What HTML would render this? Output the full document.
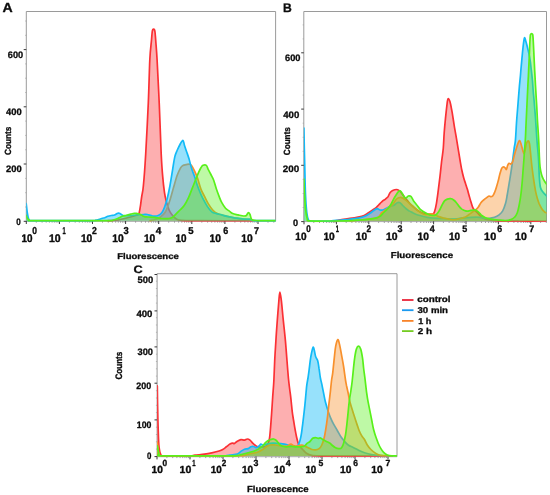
<!DOCTYPE html>
<html lang="en"><head><meta charset="utf-8"><title>Flow cytometry histograms</title>
<style>html,body{margin:0;padding:0;background:#fff}body{width:550px;height:495px;overflow:hidden}svg{display:block}</style></head>
<body>
<svg width="550" height="495" viewBox="0 0 550 495" font-family="'Liberation Sans', Arial, sans-serif" font-weight="bold" text-rendering="geometricPrecision" fill="#0c0c0c" stroke="#0c0c0c" stroke-width="0.3" stroke-linejoin="round">
<rect width="550" height="495" fill="#fff" stroke="none"/>
<defs>
<clipPath id="clipA"><rect x="26.3" y="11.5" width="249.3" height="210.8"/></clipPath>
<clipPath id="clipB"><rect x="303.8" y="11.5" width="242.7" height="211.1"/></clipPath>
<clipPath id="clipC"><rect x="157.1" y="273.7" width="239.9" height="184.0"/></clipPath>
</defs>
<path d="M26.3,221.3 L26.3,11.5 L275.6,11.5 L275.6,221.3" fill="none" stroke="#8e8e8e" stroke-width="0.9"/>
<path d="M26.3,221.3 L275.6,221.3" fill="none" stroke="#9a9a9a" stroke-width="0.9"/>
<path d="M23.7,221.3h2.6M23.7,164.0h2.6M23.7,106.8h2.6M23.7,49.6h2.6" stroke="#3a3a3a" stroke-width="1" fill="none"/>
<path d="M25.1,207.0h1.2M25.1,192.7h1.2M25.1,178.4h1.2M25.1,149.8h1.2M25.1,135.4h1.2M25.1,121.1h1.2M25.1,92.5h1.2M25.1,78.2h1.2M25.1,63.9h1.2M25.1,35.3h1.2M25.1,21.0h1.2" stroke="#999" stroke-width="0.6" fill="none"/>
<path d="M36.3,221.3v1.4M42.1,221.3v1.4M46.2,221.3v1.4M49.4,221.3v1.4M52.1,221.3v1.4M54.3,221.3v1.4M56.2,221.3v1.4M57.9,221.3v1.4M69.4,221.3v1.4M75.2,221.3v1.4M79.3,221.3v1.4M82.5,221.3v1.4M85.2,221.3v1.4M87.4,221.3v1.4M89.3,221.3v1.4M91.0,221.3v1.4M102.5,221.3v1.4M108.3,221.3v1.4M112.4,221.3v1.4M115.6,221.3v1.4M118.3,221.3v1.4M120.5,221.3v1.4M122.4,221.3v1.4M124.1,221.3v1.4M135.6,221.3v1.4M141.4,221.3v1.4M145.5,221.3v1.4M148.7,221.3v1.4M151.4,221.3v1.4M153.6,221.3v1.4M155.5,221.3v1.4M157.2,221.3v1.4M168.7,221.3v1.4M174.5,221.3v1.4M178.6,221.3v1.4M181.8,221.3v1.4M184.5,221.3v1.4M186.7,221.3v1.4M188.6,221.3v1.4M190.3,221.3v1.4M201.8,221.3v1.4M207.6,221.3v1.4M211.7,221.3v1.4M214.9,221.3v1.4M217.6,221.3v1.4M219.8,221.3v1.4M221.7,221.3v1.4M223.4,221.3v1.4M234.9,221.3v1.4M240.7,221.3v1.4M244.8,221.3v1.4M248.0,221.3v1.4M250.7,221.3v1.4M252.9,221.3v1.4M254.8,221.3v1.4M256.5,221.3v1.4M268.0,221.3v1.4M273.8,221.3v1.4" stroke="#808080" stroke-width="0.7" fill="none"/>
<path d="M26.3,221.0v3.0M59.4,221.0v3.0M92.5,221.0v3.0M125.6,221.0v3.0M158.7,221.0v3.0M191.8,221.0v3.0M224.9,221.0v3.0M258.0,221.0v3.0" stroke="#3a3a3a" stroke-width="1" fill="none"/>
<g clip-path="url(#clipA)"><path d="M108.0,220.6 C109.7,220.5 114.8,220.5 118.0,220.0 C121.2,219.5 124.6,218.5 127.3,217.8 C130.0,217.1 132.2,216.6 134.0,216.0 C135.8,215.4 137.5,215.2 138.4,214.4 C139.3,213.6 139.1,213.0 139.5,211.4 C139.9,209.8 140.2,207.4 140.6,204.8 C141.0,202.2 141.3,199.2 141.8,196.0 C142.3,192.8 142.8,192.5 143.4,185.5 C144.1,178.5 144.9,167.8 145.7,154.0 C146.5,140.2 147.6,118.7 148.3,103.0 C149.0,87.3 149.3,70.5 149.8,60.0 C150.3,49.5 151.1,44.7 151.5,40.0 C151.9,35.3 152.0,33.7 152.2,32.0 C152.4,30.3 152.6,30.1 152.8,29.6 C153.0,29.1 153.3,29.0 153.6,29.0 C153.9,29.0 154.2,29.1 154.4,29.6 C154.6,30.1 154.8,30.3 155.0,32.0 C155.2,33.7 155.3,35.3 155.7,40.0 C156.0,44.7 156.5,49.2 157.1,60.0 C157.7,70.8 158.6,89.3 159.3,105.0 C160.0,120.7 160.6,142.1 161.2,154.0 C161.8,165.9 162.1,170.0 162.7,176.4 C163.2,182.8 163.9,188.5 164.5,192.7 C165.1,196.9 165.6,198.9 166.4,201.8 C167.2,204.7 168.2,207.9 169.1,210.0 C170.0,212.1 170.6,213.0 171.8,214.5 C173.0,216.0 174.7,218.1 176.4,219.1 C178.1,220.1 177.9,220.1 181.8,220.4 C185.7,220.7 188.3,220.6 200.0,220.7 C211.7,220.8 243.3,220.7 252.0,220.7 L252.0,220.7 L108.0,220.7 Z" fill="#fb3034" fill-opacity="0.39" stroke="none"/><path d="M108.0,220.6 C109.7,220.5 114.8,220.5 118.0,220.0 C121.2,219.5 124.6,218.5 127.3,217.8 C130.0,217.1 132.2,216.6 134.0,216.0 C135.8,215.4 137.5,215.2 138.4,214.4 C139.3,213.6 139.1,213.0 139.5,211.4 C139.9,209.8 140.2,207.4 140.6,204.8 C141.0,202.2 141.3,199.2 141.8,196.0 C142.3,192.8 142.8,192.5 143.4,185.5 C144.1,178.5 144.9,167.8 145.7,154.0 C146.5,140.2 147.6,118.7 148.3,103.0 C149.0,87.3 149.3,70.5 149.8,60.0 C150.3,49.5 151.1,44.7 151.5,40.0 C151.9,35.3 152.0,33.7 152.2,32.0 C152.4,30.3 152.6,30.1 152.8,29.6 C153.0,29.1 153.3,29.0 153.6,29.0 C153.9,29.0 154.2,29.1 154.4,29.6 C154.6,30.1 154.8,30.3 155.0,32.0 C155.2,33.7 155.3,35.3 155.7,40.0 C156.0,44.7 156.5,49.2 157.1,60.0 C157.7,70.8 158.6,89.3 159.3,105.0 C160.0,120.7 160.6,142.1 161.2,154.0 C161.8,165.9 162.1,170.0 162.7,176.4 C163.2,182.8 163.9,188.5 164.5,192.7 C165.1,196.9 165.6,198.9 166.4,201.8 C167.2,204.7 168.2,207.9 169.1,210.0 C170.0,212.1 170.6,213.0 171.8,214.5 C173.0,216.0 174.7,218.1 176.4,219.1 C178.1,220.1 177.9,220.1 181.8,220.4 C185.7,220.7 188.3,220.6 200.0,220.7 C211.7,220.8 243.3,220.7 252.0,220.7" fill="none" stroke="#fb3034" stroke-width="1.7" stroke-linejoin="round" stroke-linecap="round"/></g>
<g clip-path="url(#clipA)"><path d="M150.0,220.6 C150.8,220.4 153.3,220.1 155.0,219.5 C156.7,218.9 158.2,218.6 160.0,217.3 C161.8,216.0 163.8,214.7 165.5,211.8 C167.2,208.9 168.7,204.1 170.0,200.0 C171.3,195.9 172.4,191.5 173.6,187.3 C174.8,183.1 176.1,178.2 177.3,175.0 C178.5,171.8 179.7,169.4 180.6,167.8 C181.5,166.2 182.1,165.9 183.0,165.4 C183.9,164.9 184.9,164.9 186.0,164.7 C187.1,164.5 188.4,163.9 189.3,164.1 C190.2,164.2 190.6,164.4 191.5,165.6 C192.4,166.8 193.5,169.0 194.5,171.0 C195.5,173.0 196.2,174.5 197.3,177.5 C198.4,180.5 199.7,185.9 200.9,189.1 C202.1,192.2 203.3,194.0 204.5,196.4 C205.7,198.8 206.8,201.3 208.2,203.6 C209.6,205.9 211.2,208.3 212.7,210.0 C214.2,211.7 215.5,212.7 217.3,213.6 C219.1,214.5 221.5,214.9 223.6,215.5 C225.7,216.1 227.3,216.4 230.0,217.0 C232.7,217.6 236.7,218.4 240.0,218.8 C243.3,219.2 247.7,219.3 250.0,219.6 C252.3,219.9 253.3,220.4 254.0,220.6 L254.0,220.7 L150.0,220.7 Z" fill="#f8902c" fill-opacity="0.4" stroke="none"/><path d="M150.0,220.6 C150.8,220.4 153.3,220.1 155.0,219.5 C156.7,218.9 158.2,218.6 160.0,217.3 C161.8,216.0 163.8,214.7 165.5,211.8 C167.2,208.9 168.7,204.1 170.0,200.0 C171.3,195.9 172.4,191.5 173.6,187.3 C174.8,183.1 176.1,178.2 177.3,175.0 C178.5,171.8 179.7,169.4 180.6,167.8 C181.5,166.2 182.1,165.9 183.0,165.4 C183.9,164.9 184.9,164.9 186.0,164.7 C187.1,164.5 188.4,163.9 189.3,164.1 C190.2,164.2 190.6,164.4 191.5,165.6 C192.4,166.8 193.5,169.0 194.5,171.0 C195.5,173.0 196.2,174.5 197.3,177.5 C198.4,180.5 199.7,185.9 200.9,189.1 C202.1,192.2 203.3,194.0 204.5,196.4 C205.7,198.8 206.8,201.3 208.2,203.6 C209.6,205.9 211.2,208.3 212.7,210.0 C214.2,211.7 215.5,212.7 217.3,213.6 C219.1,214.5 221.5,214.9 223.6,215.5 C225.7,216.1 227.3,216.4 230.0,217.0 C232.7,217.6 236.7,218.4 240.0,218.8 C243.3,219.2 247.7,219.3 250.0,219.6 C252.3,219.9 253.3,220.4 254.0,220.6" fill="none" stroke="#f8902c" stroke-width="1.7" stroke-linejoin="round" stroke-linecap="round"/></g>
<g clip-path="url(#clipA)"><path d="M26.2,203.5 C26.4,204.9 26.8,209.3 27.2,212.0 C27.6,214.7 28.3,218.2 28.9,219.6 C29.5,221.0 25.8,220.4 31.0,220.6 C36.2,220.8 49.8,220.7 60.0,220.7 C70.2,220.7 86.0,220.7 92.0,220.6 C98.0,220.5 94.5,220.5 95.9,220.2 C97.3,219.9 98.8,219.4 100.3,219.0 C101.8,218.6 103.3,218.1 104.6,217.7 C105.9,217.2 106.8,216.7 107.9,216.3 C109.0,215.9 110.1,215.7 111.2,215.5 C112.3,215.3 113.6,215.3 114.5,215.0 C115.4,214.7 116.0,214.1 116.6,213.8 C117.2,213.5 117.8,213.2 118.3,213.2 C118.8,213.1 119.3,213.2 119.9,213.5 C120.5,213.8 121.5,214.5 122.1,214.9 C122.7,215.3 122.5,215.6 123.7,215.7 C124.9,215.8 127.0,215.7 129.0,215.6 C131.1,215.5 133.6,215.2 136.0,215.0 C138.4,214.8 141.7,214.6 143.6,214.5 C145.5,214.4 145.8,214.2 147.3,214.5 C148.8,214.8 150.9,215.8 152.7,216.0 C154.5,216.2 156.7,216.1 158.2,215.5 C159.7,214.9 160.8,214.1 161.8,212.7 C162.9,211.3 163.6,209.7 164.5,207.3 C165.4,204.9 166.4,201.8 167.3,198.2 C168.2,194.6 169.1,190.3 170.0,185.5 C170.9,180.7 171.9,173.9 172.7,169.1 C173.5,164.2 174.1,159.6 174.9,156.4 C175.7,153.2 176.5,152.0 177.3,150.0 C178.2,148.0 179.1,146.1 180.0,144.5 C180.9,142.9 182.2,140.1 182.9,140.3 C183.7,140.5 183.8,143.3 184.5,145.5 C185.2,147.7 186.5,151.3 187.3,153.6 C188.1,155.9 188.3,156.5 189.1,159.1 C189.8,161.7 190.9,166.2 191.8,169.1 C192.7,172.0 193.7,174.1 194.5,176.4 C195.3,178.7 195.6,180.4 196.4,182.7 C197.2,185.0 198.1,187.4 199.1,190.0 C200.1,192.6 201.3,195.5 202.7,198.2 C204.1,200.9 205.8,204.1 207.3,206.4 C208.8,208.7 210.3,210.6 211.8,211.8 C213.3,213.0 214.7,213.1 216.4,213.6 C218.1,214.1 220.0,214.4 221.8,214.9 C223.6,215.4 225.2,215.9 227.3,216.4 C229.4,216.9 231.8,217.4 234.5,217.8 C237.2,218.2 241.0,218.9 243.6,219.1 C246.2,219.3 248.5,218.9 250.0,219.1 C251.5,219.3 251.0,220.2 252.7,220.5 C254.4,220.8 256.2,220.7 260.0,220.7 C263.8,220.7 273.0,220.7 275.6,220.7 L275.6,220.7 L26.2,220.7 Z" fill="#12baf7" fill-opacity="0.44" stroke="none"/><path d="M26.2,203.5 C26.4,204.9 26.8,209.3 27.2,212.0 C27.6,214.7 28.3,218.2 28.9,219.6 C29.5,221.0 25.8,220.4 31.0,220.6 C36.2,220.8 49.8,220.7 60.0,220.7 C70.2,220.7 86.0,220.7 92.0,220.6 C98.0,220.5 94.5,220.5 95.9,220.2 C97.3,219.9 98.8,219.4 100.3,219.0 C101.8,218.6 103.3,218.1 104.6,217.7 C105.9,217.2 106.8,216.7 107.9,216.3 C109.0,215.9 110.1,215.7 111.2,215.5 C112.3,215.3 113.6,215.3 114.5,215.0 C115.4,214.7 116.0,214.1 116.6,213.8 C117.2,213.5 117.8,213.2 118.3,213.2 C118.8,213.1 119.3,213.2 119.9,213.5 C120.5,213.8 121.5,214.5 122.1,214.9 C122.7,215.3 122.5,215.6 123.7,215.7 C124.9,215.8 127.0,215.7 129.0,215.6 C131.1,215.5 133.6,215.2 136.0,215.0 C138.4,214.8 141.7,214.6 143.6,214.5 C145.5,214.4 145.8,214.2 147.3,214.5 C148.8,214.8 150.9,215.8 152.7,216.0 C154.5,216.2 156.7,216.1 158.2,215.5 C159.7,214.9 160.8,214.1 161.8,212.7 C162.9,211.3 163.6,209.7 164.5,207.3 C165.4,204.9 166.4,201.8 167.3,198.2 C168.2,194.6 169.1,190.3 170.0,185.5 C170.9,180.7 171.9,173.9 172.7,169.1 C173.5,164.2 174.1,159.6 174.9,156.4 C175.7,153.2 176.5,152.0 177.3,150.0 C178.2,148.0 179.1,146.1 180.0,144.5 C180.9,142.9 182.2,140.1 182.9,140.3 C183.7,140.5 183.8,143.3 184.5,145.5 C185.2,147.7 186.5,151.3 187.3,153.6 C188.1,155.9 188.3,156.5 189.1,159.1 C189.8,161.7 190.9,166.2 191.8,169.1 C192.7,172.0 193.7,174.1 194.5,176.4 C195.3,178.7 195.6,180.4 196.4,182.7 C197.2,185.0 198.1,187.4 199.1,190.0 C200.1,192.6 201.3,195.5 202.7,198.2 C204.1,200.9 205.8,204.1 207.3,206.4 C208.8,208.7 210.3,210.6 211.8,211.8 C213.3,213.0 214.7,213.1 216.4,213.6 C218.1,214.1 220.0,214.4 221.8,214.9 C223.6,215.4 225.2,215.9 227.3,216.4 C229.4,216.9 231.8,217.4 234.5,217.8 C237.2,218.2 241.0,218.9 243.6,219.1 C246.2,219.3 248.5,218.9 250.0,219.1 C251.5,219.3 251.0,220.2 252.7,220.5 C254.4,220.8 256.2,220.7 260.0,220.7 C263.8,220.7 273.0,220.7 275.6,220.7" fill="none" stroke="#12baf7" stroke-width="1.7" stroke-linejoin="round" stroke-linecap="round"/></g>
<g clip-path="url(#clipA)"><path d="M26.2,215.3 C26.4,215.8 26.9,217.7 27.5,218.5 C28.1,219.3 28.8,219.8 29.5,220.2 C30.2,220.6 25.2,220.6 32.0,220.7 C38.8,220.8 57.3,220.7 70.0,220.7 C82.7,220.7 101.0,220.8 108.0,220.7 C115.0,220.6 110.7,220.7 112.3,220.3 C113.9,219.9 116.1,219.2 117.7,218.5 C119.3,217.8 120.6,216.9 122.1,216.3 C123.6,215.8 125.0,215.6 126.5,215.2 C128.0,214.8 129.5,214.4 130.8,214.1 C132.1,213.8 133.2,213.4 134.1,213.3 C135.0,213.2 135.6,213.2 136.3,213.3 C137.0,213.4 137.8,213.6 138.5,213.8 C139.2,214.0 139.9,214.2 140.6,214.6 C141.3,214.9 142.1,215.5 142.8,215.9 C143.5,216.3 144.1,216.6 145.0,216.8 C145.9,217.0 146.4,216.9 148.0,217.0 C149.6,217.1 152.2,217.1 154.5,217.3 C156.8,217.6 159.4,218.3 161.8,218.5 C164.2,218.7 167.3,218.7 169.1,218.5 C170.9,218.3 171.5,218.1 172.7,217.3 C173.9,216.5 175.2,214.8 176.4,213.6 C177.6,212.4 178.7,211.3 180.0,210.0 C181.3,208.7 182.8,207.5 184.2,205.5 C185.6,203.5 187.1,200.8 188.3,198.2 C189.6,195.5 190.6,192.4 191.7,189.6 C192.8,186.8 193.9,184.1 195.0,181.3 C196.1,178.5 197.4,175.2 198.4,172.9 C199.4,170.7 200.1,169.1 200.9,167.8 C201.7,166.5 202.1,165.7 203.0,165.3 C203.9,164.9 205.4,164.6 206.3,165.3 C207.2,166.0 207.4,167.8 208.2,169.3 C209.0,170.8 210.0,172.7 210.9,174.5 C211.8,176.3 212.7,177.6 213.6,180.0 C214.5,182.4 215.5,186.4 216.4,189.1 C217.3,191.8 218.2,194.1 219.1,196.4 C220.0,198.7 220.7,200.7 221.8,202.7 C222.9,204.7 224.3,206.8 225.5,208.2 C226.7,209.6 227.9,210.0 229.1,210.9 C230.3,211.8 231.2,212.9 232.7,213.6 C234.2,214.3 236.4,214.5 238.2,214.9 C240.0,215.3 242.2,215.9 243.6,216.0 C245.0,216.1 245.6,216.1 246.4,215.5 C247.2,214.9 247.6,212.9 248.2,212.7 C248.8,212.5 249.4,213.3 250.0,214.5 C250.6,215.7 250.7,218.6 251.8,219.6 C252.9,220.6 254.2,220.3 256.4,220.5 C258.6,220.7 261.8,220.7 265.0,220.7 C268.2,220.7 273.8,220.7 275.6,220.7 L275.6,220.7 L26.2,220.7 Z" fill="#58f01a" fill-opacity="0.39" stroke="none"/><path d="M26.2,215.3 C26.4,215.8 26.9,217.7 27.5,218.5 C28.1,219.3 28.8,219.8 29.5,220.2 C30.2,220.6 25.2,220.6 32.0,220.7 C38.8,220.8 57.3,220.7 70.0,220.7 C82.7,220.7 101.0,220.8 108.0,220.7 C115.0,220.6 110.7,220.7 112.3,220.3 C113.9,219.9 116.1,219.2 117.7,218.5 C119.3,217.8 120.6,216.9 122.1,216.3 C123.6,215.8 125.0,215.6 126.5,215.2 C128.0,214.8 129.5,214.4 130.8,214.1 C132.1,213.8 133.2,213.4 134.1,213.3 C135.0,213.2 135.6,213.2 136.3,213.3 C137.0,213.4 137.8,213.6 138.5,213.8 C139.2,214.0 139.9,214.2 140.6,214.6 C141.3,214.9 142.1,215.5 142.8,215.9 C143.5,216.3 144.1,216.6 145.0,216.8 C145.9,217.0 146.4,216.9 148.0,217.0 C149.6,217.1 152.2,217.1 154.5,217.3 C156.8,217.6 159.4,218.3 161.8,218.5 C164.2,218.7 167.3,218.7 169.1,218.5 C170.9,218.3 171.5,218.1 172.7,217.3 C173.9,216.5 175.2,214.8 176.4,213.6 C177.6,212.4 178.7,211.3 180.0,210.0 C181.3,208.7 182.8,207.5 184.2,205.5 C185.6,203.5 187.1,200.8 188.3,198.2 C189.6,195.5 190.6,192.4 191.7,189.6 C192.8,186.8 193.9,184.1 195.0,181.3 C196.1,178.5 197.4,175.2 198.4,172.9 C199.4,170.7 200.1,169.1 200.9,167.8 C201.7,166.5 202.1,165.7 203.0,165.3 C203.9,164.9 205.4,164.6 206.3,165.3 C207.2,166.0 207.4,167.8 208.2,169.3 C209.0,170.8 210.0,172.7 210.9,174.5 C211.8,176.3 212.7,177.6 213.6,180.0 C214.5,182.4 215.5,186.4 216.4,189.1 C217.3,191.8 218.2,194.1 219.1,196.4 C220.0,198.7 220.7,200.7 221.8,202.7 C222.9,204.7 224.3,206.8 225.5,208.2 C226.7,209.6 227.9,210.0 229.1,210.9 C230.3,211.8 231.2,212.9 232.7,213.6 C234.2,214.3 236.4,214.5 238.2,214.9 C240.0,215.3 242.2,215.9 243.6,216.0 C245.0,216.1 245.6,216.1 246.4,215.5 C247.2,214.9 247.6,212.9 248.2,212.7 C248.8,212.5 249.4,213.3 250.0,214.5 C250.6,215.7 250.7,218.6 251.8,219.6 C252.9,220.6 254.2,220.3 256.4,220.5 C258.6,220.7 261.8,220.7 265.0,220.7 C268.2,220.7 273.8,220.7 275.6,220.7" fill="none" stroke="#58f01a" stroke-width="1.7" stroke-linejoin="round" stroke-linecap="round"/></g>
<path d="M303.8,221.6 L303.8,11.5 L546.5,11.5 L546.5,221.6" fill="none" stroke="#8e8e8e" stroke-width="0.9"/>
<path d="M303.8,221.6 L546.5,221.6" fill="none" stroke="#9a9a9a" stroke-width="0.9"/>
<path d="M301.2,221.6h2.6M301.2,165.3h2.6M301.2,109.1h2.6M301.2,52.8h2.6" stroke="#3a3a3a" stroke-width="1" fill="none"/>
<path d="M302.6,207.5h1.2M302.6,193.5h1.2M302.6,179.4h1.2M302.6,151.3h1.2M302.6,137.3h1.2M302.6,123.2h1.2M302.6,95.1h1.2M302.6,81.1h1.2M302.6,67.0h1.2M302.6,38.9h1.2M302.6,24.9h1.2" stroke="#999" stroke-width="0.6" fill="none"/>
<path d="M313.8,221.6v1.4M319.5,221.6v1.4M323.5,221.6v1.4M326.6,221.6v1.4M329.2,221.6v1.4M331.4,221.6v1.4M333.3,221.6v1.4M334.9,221.6v1.4M346.2,221.6v1.4M351.9,221.6v1.4M355.9,221.6v1.4M359.0,221.6v1.4M361.6,221.6v1.4M363.8,221.6v1.4M365.7,221.6v1.4M367.3,221.6v1.4M378.6,221.6v1.4M384.3,221.6v1.4M388.3,221.6v1.4M391.4,221.6v1.4M394.0,221.6v1.4M396.2,221.6v1.4M398.1,221.6v1.4M399.7,221.6v1.4M411.0,221.6v1.4M416.7,221.6v1.4M420.7,221.6v1.4M423.8,221.6v1.4M426.4,221.6v1.4M428.6,221.6v1.4M430.5,221.6v1.4M432.1,221.6v1.4M443.4,221.6v1.4M449.1,221.6v1.4M453.1,221.6v1.4M456.2,221.6v1.4M458.8,221.6v1.4M461.0,221.6v1.4M462.9,221.6v1.4M464.5,221.6v1.4M475.8,221.6v1.4M481.5,221.6v1.4M485.5,221.6v1.4M488.6,221.6v1.4M491.2,221.6v1.4M493.4,221.6v1.4M495.3,221.6v1.4M496.9,221.6v1.4M508.2,221.6v1.4M513.9,221.6v1.4M517.9,221.6v1.4M521.0,221.6v1.4M523.6,221.6v1.4M525.8,221.6v1.4M527.7,221.6v1.4M529.3,221.6v1.4M540.6,221.6v1.4M546.3,221.6v1.4" stroke="#808080" stroke-width="0.7" fill="none"/>
<path d="M304.0,221.29999999999998v3.0M336.4,221.29999999999998v3.0M368.8,221.29999999999998v3.0M401.2,221.29999999999998v3.0M433.6,221.29999999999998v3.0M466.0,221.29999999999998v3.0M498.4,221.29999999999998v3.0M530.8,221.29999999999998v3.0" stroke="#3a3a3a" stroke-width="1" fill="none"/>
<g clip-path="url(#clipB)"><path d="M334.0,221.0 C334.7,220.9 336.1,220.6 338.0,220.3 C339.9,220.0 342.8,219.5 345.5,219.1 C348.2,218.7 351.8,218.2 354.5,217.8 C357.2,217.4 359.7,217.1 361.8,216.4 C363.9,215.7 365.5,214.7 367.3,213.6 C369.1,212.5 371.2,211.1 372.7,210.0 C374.2,208.9 375.2,208.4 376.4,207.3 C377.6,206.2 378.9,204.7 380.0,203.6 C381.1,202.5 381.8,201.7 382.7,200.9 C383.6,200.2 384.6,199.8 385.5,199.1 C386.4,198.3 387.4,197.5 388.2,196.4 C388.9,195.3 389.2,193.7 390.0,192.7 C390.8,191.7 391.6,191.0 392.7,190.5 C393.8,190.0 395.3,189.5 396.4,189.5 C397.5,189.5 398.4,190.0 399.3,190.6 C400.2,191.2 400.6,191.9 401.5,193.0 C402.4,194.1 403.2,195.6 404.4,197.1 C405.6,198.6 407.2,200.6 408.7,202.2 C410.1,203.8 411.6,205.2 413.1,206.5 C414.6,207.8 415.9,209.1 417.5,210.2 C419.1,211.3 420.7,212.3 422.5,213.0 C424.3,213.7 426.7,214.2 428.4,214.4 C430.1,214.6 431.7,214.6 432.7,214.2 C433.7,213.8 433.9,213.6 434.5,211.8 C435.1,210.0 435.8,207.1 436.4,203.6 C437.0,200.1 437.6,195.4 438.2,190.9 C438.8,186.4 439.4,181.6 440.0,176.4 C440.6,171.2 441.2,164.7 441.8,160.0 C442.4,155.3 442.9,152.6 443.3,148.0 C443.7,143.4 443.8,137.7 444.2,132.7 C444.6,127.7 445.0,123.3 445.5,118.2 C446.0,113.1 446.9,105.1 447.3,101.8 C447.8,98.5 447.8,98.5 448.2,98.5 C448.6,98.5 449.3,99.4 450.0,101.8 C450.7,104.2 451.4,108.5 452.2,112.7 C452.9,117.0 453.8,123.0 454.5,127.3 C455.2,131.5 455.8,134.6 456.4,138.2 C457.0,141.8 457.6,145.5 458.2,149.1 C458.8,152.7 459.4,156.5 460.0,160.0 C460.6,163.5 461.2,167.1 461.8,170.0 C462.4,172.9 463.0,175.2 463.6,177.5 C464.2,179.8 464.9,181.6 465.5,183.5 C466.1,185.4 466.7,187.1 467.3,189.1 C467.9,191.1 468.5,193.4 469.1,195.5 C469.7,197.6 470.3,199.8 470.9,201.8 C471.5,203.8 472.1,205.9 472.7,207.3 C473.3,208.7 473.6,208.9 474.5,210.0 C475.4,211.1 477.0,212.4 478.2,213.6 C479.4,214.8 480.3,216.3 481.8,217.3 C483.3,218.3 484.9,219.1 487.3,219.6 C489.7,220.1 490.9,220.4 496.4,220.6 C501.8,220.8 511.7,220.9 520.0,221.0 C528.3,221.1 541.8,221.0 546.2,221.0 L546.2,221.0 L334.0,221.0 Z" fill="#fb3034" fill-opacity="0.39" stroke="none"/><path d="M334.0,221.0 C334.7,220.9 336.1,220.6 338.0,220.3 C339.9,220.0 342.8,219.5 345.5,219.1 C348.2,218.7 351.8,218.2 354.5,217.8 C357.2,217.4 359.7,217.1 361.8,216.4 C363.9,215.7 365.5,214.7 367.3,213.6 C369.1,212.5 371.2,211.1 372.7,210.0 C374.2,208.9 375.2,208.4 376.4,207.3 C377.6,206.2 378.9,204.7 380.0,203.6 C381.1,202.5 381.8,201.7 382.7,200.9 C383.6,200.2 384.6,199.8 385.5,199.1 C386.4,198.3 387.4,197.5 388.2,196.4 C388.9,195.3 389.2,193.7 390.0,192.7 C390.8,191.7 391.6,191.0 392.7,190.5 C393.8,190.0 395.3,189.5 396.4,189.5 C397.5,189.5 398.4,190.0 399.3,190.6 C400.2,191.2 400.6,191.9 401.5,193.0 C402.4,194.1 403.2,195.6 404.4,197.1 C405.6,198.6 407.2,200.6 408.7,202.2 C410.1,203.8 411.6,205.2 413.1,206.5 C414.6,207.8 415.9,209.1 417.5,210.2 C419.1,211.3 420.7,212.3 422.5,213.0 C424.3,213.7 426.7,214.2 428.4,214.4 C430.1,214.6 431.7,214.6 432.7,214.2 C433.7,213.8 433.9,213.6 434.5,211.8 C435.1,210.0 435.8,207.1 436.4,203.6 C437.0,200.1 437.6,195.4 438.2,190.9 C438.8,186.4 439.4,181.6 440.0,176.4 C440.6,171.2 441.2,164.7 441.8,160.0 C442.4,155.3 442.9,152.6 443.3,148.0 C443.7,143.4 443.8,137.7 444.2,132.7 C444.6,127.7 445.0,123.3 445.5,118.2 C446.0,113.1 446.9,105.1 447.3,101.8 C447.8,98.5 447.8,98.5 448.2,98.5 C448.6,98.5 449.3,99.4 450.0,101.8 C450.7,104.2 451.4,108.5 452.2,112.7 C452.9,117.0 453.8,123.0 454.5,127.3 C455.2,131.5 455.8,134.6 456.4,138.2 C457.0,141.8 457.6,145.5 458.2,149.1 C458.8,152.7 459.4,156.5 460.0,160.0 C460.6,163.5 461.2,167.1 461.8,170.0 C462.4,172.9 463.0,175.2 463.6,177.5 C464.2,179.8 464.9,181.6 465.5,183.5 C466.1,185.4 466.7,187.1 467.3,189.1 C467.9,191.1 468.5,193.4 469.1,195.5 C469.7,197.6 470.3,199.8 470.9,201.8 C471.5,203.8 472.1,205.9 472.7,207.3 C473.3,208.7 473.6,208.9 474.5,210.0 C475.4,211.1 477.0,212.4 478.2,213.6 C479.4,214.8 480.3,216.3 481.8,217.3 C483.3,218.3 484.9,219.1 487.3,219.6 C489.7,220.1 490.9,220.4 496.4,220.6 C501.8,220.8 511.7,220.9 520.0,221.0 C528.3,221.1 541.8,221.0 546.2,221.0" fill="none" stroke="#fb3034" stroke-width="1.7" stroke-linejoin="round" stroke-linecap="round"/></g>
<g clip-path="url(#clipB)"><path d="M303.9,128.0 C304.0,133.3 304.3,148.9 304.6,160.0 C304.9,171.1 305.1,185.7 305.5,194.5 C305.9,203.3 306.3,208.4 306.8,212.7 C307.3,216.9 307.7,218.6 308.4,220.0 C309.1,221.4 309.1,220.8 311.0,221.0 C312.9,221.2 316.8,221.0 320.0,221.0 C323.2,221.0 327.3,221.1 330.0,221.0 C332.7,220.9 333.5,220.6 336.4,220.4 C339.3,220.2 343.7,220.0 347.3,219.6 C350.9,219.2 355.2,218.8 358.2,218.2 C361.2,217.6 363.4,216.9 365.5,216.0 C367.6,215.1 369.4,213.7 370.9,212.7 C372.4,211.7 373.4,210.7 374.5,210.0 C375.6,209.3 376.4,208.7 377.3,208.7 C378.2,208.7 379.1,209.8 380.0,210.0 C380.9,210.2 381.6,210.3 382.7,210.0 C383.8,209.7 385.3,208.7 386.4,208.2 C387.5,207.7 388.2,207.3 389.1,206.9 C390.0,206.5 390.9,206.3 391.8,206.0 C392.7,205.7 393.6,205.6 394.5,205.0 C395.4,204.4 396.4,203.1 397.3,202.7 C398.2,202.3 399.1,202.2 400.0,202.7 C400.9,203.2 401.8,204.6 402.7,205.5 C403.6,206.4 404.4,207.3 405.5,208.2 C406.6,209.1 407.9,210.2 409.1,210.9 C410.3,211.7 411.5,212.1 412.7,212.7 C413.9,213.3 414.9,213.9 416.4,214.5 C417.9,215.1 420.0,215.5 421.8,216.0 C423.6,216.5 425.2,216.9 427.3,217.3 C429.4,217.7 431.8,218.0 434.5,218.2 C437.2,218.4 440.6,218.3 443.6,218.5 C446.6,218.7 449.7,219.2 452.7,219.1 C455.7,219.0 458.8,218.5 461.8,218.2 C464.8,217.9 467.9,217.5 470.9,217.3 C473.9,217.2 477.3,217.1 480.0,217.3 C482.7,217.5 484.9,218.5 487.3,218.5 C489.7,218.5 492.5,217.9 494.5,217.3 C496.5,216.7 497.7,216.0 499.1,214.9 C500.5,213.8 501.6,212.8 502.7,210.9 C503.8,209.0 504.7,206.3 505.5,203.6 C506.3,200.9 506.7,197.8 507.3,194.5 C507.9,191.2 508.5,187.2 509.1,183.6 C509.7,180.0 510.3,176.6 510.9,172.7 C511.5,168.8 512.2,164.1 512.7,160.0 C513.2,155.9 513.8,151.3 514.2,148.0 C514.7,144.7 515.0,144.5 515.4,140.3 C515.8,136.1 516.1,128.9 516.5,122.8 C516.9,116.7 517.5,110.2 518.0,103.9 C518.5,97.6 519.1,89.3 519.5,85.0 C519.9,80.7 519.9,81.3 520.2,78.2 C520.5,75.1 520.8,70.6 521.2,66.5 C521.6,62.4 522.0,57.4 522.4,53.5 C522.8,49.6 523.1,45.9 523.5,43.3 C523.9,40.7 524.1,38.0 524.5,37.7 C524.9,37.5 525.5,40.1 526.0,41.8 C526.5,43.4 527.0,45.6 527.5,47.6 C528.0,49.6 528.4,51.1 528.9,53.5 C529.4,55.9 530.0,59.3 530.4,62.2 C530.8,65.1 531.0,67.8 531.4,70.9 C531.8,74.1 532.2,77.6 532.5,81.1 C532.8,84.6 533.0,88.9 533.3,92.0 C533.5,95.1 533.7,95.8 534.0,99.5 C534.3,103.2 534.8,109.2 535.2,114.1 C535.6,118.9 535.9,123.8 536.2,128.6 C536.5,133.4 536.8,138.5 537.2,143.2 C537.6,147.9 538.0,151.5 538.4,157.0 C538.8,162.5 539.0,171.3 539.3,176.4 C539.6,181.5 539.8,184.7 540.4,187.3 C541.0,189.9 541.7,190.4 542.7,191.8 C543.7,193.2 545.0,194.5 546.2,195.5 C547.4,196.5 549.4,197.6 550.0,198.0 L550.0,221.0 L303.9,221.0 Z" fill="#12baf7" fill-opacity="0.44" stroke="none"/><path d="M303.9,128.0 C304.0,133.3 304.3,148.9 304.6,160.0 C304.9,171.1 305.1,185.7 305.5,194.5 C305.9,203.3 306.3,208.4 306.8,212.7 C307.3,216.9 307.7,218.6 308.4,220.0 C309.1,221.4 309.1,220.8 311.0,221.0 C312.9,221.2 316.8,221.0 320.0,221.0 C323.2,221.0 327.3,221.1 330.0,221.0 C332.7,220.9 333.5,220.6 336.4,220.4 C339.3,220.2 343.7,220.0 347.3,219.6 C350.9,219.2 355.2,218.8 358.2,218.2 C361.2,217.6 363.4,216.9 365.5,216.0 C367.6,215.1 369.4,213.7 370.9,212.7 C372.4,211.7 373.4,210.7 374.5,210.0 C375.6,209.3 376.4,208.7 377.3,208.7 C378.2,208.7 379.1,209.8 380.0,210.0 C380.9,210.2 381.6,210.3 382.7,210.0 C383.8,209.7 385.3,208.7 386.4,208.2 C387.5,207.7 388.2,207.3 389.1,206.9 C390.0,206.5 390.9,206.3 391.8,206.0 C392.7,205.7 393.6,205.6 394.5,205.0 C395.4,204.4 396.4,203.1 397.3,202.7 C398.2,202.3 399.1,202.2 400.0,202.7 C400.9,203.2 401.8,204.6 402.7,205.5 C403.6,206.4 404.4,207.3 405.5,208.2 C406.6,209.1 407.9,210.2 409.1,210.9 C410.3,211.7 411.5,212.1 412.7,212.7 C413.9,213.3 414.9,213.9 416.4,214.5 C417.9,215.1 420.0,215.5 421.8,216.0 C423.6,216.5 425.2,216.9 427.3,217.3 C429.4,217.7 431.8,218.0 434.5,218.2 C437.2,218.4 440.6,218.3 443.6,218.5 C446.6,218.7 449.7,219.2 452.7,219.1 C455.7,219.0 458.8,218.5 461.8,218.2 C464.8,217.9 467.9,217.5 470.9,217.3 C473.9,217.2 477.3,217.1 480.0,217.3 C482.7,217.5 484.9,218.5 487.3,218.5 C489.7,218.5 492.5,217.9 494.5,217.3 C496.5,216.7 497.7,216.0 499.1,214.9 C500.5,213.8 501.6,212.8 502.7,210.9 C503.8,209.0 504.7,206.3 505.5,203.6 C506.3,200.9 506.7,197.8 507.3,194.5 C507.9,191.2 508.5,187.2 509.1,183.6 C509.7,180.0 510.3,176.6 510.9,172.7 C511.5,168.8 512.2,164.1 512.7,160.0 C513.2,155.9 513.8,151.3 514.2,148.0 C514.7,144.7 515.0,144.5 515.4,140.3 C515.8,136.1 516.1,128.9 516.5,122.8 C516.9,116.7 517.5,110.2 518.0,103.9 C518.5,97.6 519.1,89.3 519.5,85.0 C519.9,80.7 519.9,81.3 520.2,78.2 C520.5,75.1 520.8,70.6 521.2,66.5 C521.6,62.4 522.0,57.4 522.4,53.5 C522.8,49.6 523.1,45.9 523.5,43.3 C523.9,40.7 524.1,38.0 524.5,37.7 C524.9,37.5 525.5,40.1 526.0,41.8 C526.5,43.4 527.0,45.6 527.5,47.6 C528.0,49.6 528.4,51.1 528.9,53.5 C529.4,55.9 530.0,59.3 530.4,62.2 C530.8,65.1 531.0,67.8 531.4,70.9 C531.8,74.1 532.2,77.6 532.5,81.1 C532.8,84.6 533.0,88.9 533.3,92.0 C533.5,95.1 533.7,95.8 534.0,99.5 C534.3,103.2 534.8,109.2 535.2,114.1 C535.6,118.9 535.9,123.8 536.2,128.6 C536.5,133.4 536.8,138.5 537.2,143.2 C537.6,147.9 538.0,151.5 538.4,157.0 C538.8,162.5 539.0,171.3 539.3,176.4 C539.6,181.5 539.8,184.7 540.4,187.3 C541.0,189.9 541.7,190.4 542.7,191.8 C543.7,193.2 545.0,194.5 546.2,195.5 C547.4,196.5 549.4,197.6 550.0,198.0" fill="none" stroke="#12baf7" stroke-width="1.7" stroke-linejoin="round" stroke-linecap="round"/></g>
<g clip-path="url(#clipB)"><path d="M350.0,221.0 C351.7,220.8 356.2,220.4 360.0,220.0 C363.8,219.6 369.7,218.9 372.7,218.5 C375.7,218.1 376.7,218.3 378.2,217.3 C379.7,216.3 380.6,213.9 381.8,212.7 C383.0,211.5 384.3,210.9 385.5,210.0 C386.7,209.1 387.9,208.2 389.1,207.3 C390.3,206.4 391.5,205.8 392.7,204.5 C393.9,203.2 395.3,200.3 396.4,199.2 C397.4,198.1 398.1,198.0 399.0,197.7 C399.9,197.4 400.5,197.3 401.5,197.6 C402.5,197.9 403.8,198.6 405.1,199.6 C406.4,200.6 408.1,202.0 409.5,203.3 C410.9,204.6 412.4,206.0 413.8,207.3 C415.2,208.6 416.8,209.9 418.2,210.9 C419.6,211.9 421.2,213.0 422.5,213.6 C423.8,214.2 424.6,214.6 426.0,214.6 C427.4,214.6 429.5,213.8 430.9,213.8 C432.3,213.8 433.3,214.1 434.5,214.5 C435.7,214.9 436.7,215.8 438.2,216.4 C439.7,217.0 441.8,217.8 443.6,218.2 C445.4,218.6 447.3,218.9 449.1,219.1 C450.9,219.3 452.7,219.7 454.5,219.6 C456.3,219.5 458.2,218.9 460.0,218.5 C461.8,218.1 464.0,217.7 465.5,217.0 C467.0,216.3 467.9,215.4 469.1,214.5 C470.3,213.6 471.6,212.6 472.7,211.8 C473.8,211.1 474.6,210.8 475.5,210.0 C476.4,209.2 477.3,208.5 478.2,207.3 C479.1,206.1 480.0,203.9 480.9,202.7 C481.8,201.5 482.7,200.8 483.6,200.0 C484.5,199.2 485.5,198.5 486.4,197.8 C487.3,197.1 488.4,196.2 489.1,196.0 C489.9,195.8 490.3,196.7 490.9,196.7 C491.5,196.7 492.1,196.7 492.7,196.0 C493.3,195.3 493.9,194.1 494.5,192.7 C495.1,191.2 495.8,189.3 496.4,187.3 C497.0,185.3 497.6,183.2 498.2,180.9 C498.8,178.6 499.4,175.7 500.0,173.6 C500.6,171.5 501.2,169.3 501.8,168.2 C502.4,167.1 503.0,166.9 503.6,166.9 C504.2,166.9 505.0,167.8 505.5,168.2 C506.0,168.6 506.0,169.9 506.4,169.5 C506.8,169.1 507.2,166.5 507.6,165.5 C508.1,164.5 508.6,163.6 509.1,163.3 C509.7,163.1 510.3,164.3 510.9,164.0 C511.5,163.7 512.1,163.1 512.7,161.5 C513.3,159.9 513.9,156.7 514.5,154.5 C515.1,152.3 515.8,150.2 516.4,148.2 C517.0,146.2 517.7,144.0 518.2,142.7 C518.7,141.4 519.2,140.4 519.6,140.6 C520.0,140.8 520.4,142.0 520.9,143.6 C521.4,145.2 522.2,148.3 522.7,150.0 C523.2,151.7 523.6,153.6 524.0,153.6 C524.4,153.6 524.7,151.7 525.1,150.0 C525.5,148.3 525.9,145.1 526.4,143.6 C526.9,142.1 527.7,140.9 528.2,140.9 C528.7,140.9 529.1,141.6 529.5,143.6 C529.9,145.6 530.1,149.0 530.5,152.7 C530.9,156.3 531.3,161.1 531.8,165.5 C532.3,169.9 533.0,174.9 533.6,179.1 C534.2,183.3 534.9,187.7 535.5,190.9 C536.1,194.1 536.7,196.1 537.3,198.2 C537.9,200.3 538.4,201.8 539.1,203.6 C539.9,205.3 540.9,207.3 541.8,208.7 C542.7,210.1 543.8,211.1 544.5,211.8 C545.2,212.5 545.3,212.3 546.2,212.7 C547.1,213.1 549.4,213.8 550.0,214.0 L550.0,221.0 L350.0,221.0 Z" fill="#f8902c" fill-opacity="0.4" stroke="none"/><path d="M350.0,221.0 C351.7,220.8 356.2,220.4 360.0,220.0 C363.8,219.6 369.7,218.9 372.7,218.5 C375.7,218.1 376.7,218.3 378.2,217.3 C379.7,216.3 380.6,213.9 381.8,212.7 C383.0,211.5 384.3,210.9 385.5,210.0 C386.7,209.1 387.9,208.2 389.1,207.3 C390.3,206.4 391.5,205.8 392.7,204.5 C393.9,203.2 395.3,200.3 396.4,199.2 C397.4,198.1 398.1,198.0 399.0,197.7 C399.9,197.4 400.5,197.3 401.5,197.6 C402.5,197.9 403.8,198.6 405.1,199.6 C406.4,200.6 408.1,202.0 409.5,203.3 C410.9,204.6 412.4,206.0 413.8,207.3 C415.2,208.6 416.8,209.9 418.2,210.9 C419.6,211.9 421.2,213.0 422.5,213.6 C423.8,214.2 424.6,214.6 426.0,214.6 C427.4,214.6 429.5,213.8 430.9,213.8 C432.3,213.8 433.3,214.1 434.5,214.5 C435.7,214.9 436.7,215.8 438.2,216.4 C439.7,217.0 441.8,217.8 443.6,218.2 C445.4,218.6 447.3,218.9 449.1,219.1 C450.9,219.3 452.7,219.7 454.5,219.6 C456.3,219.5 458.2,218.9 460.0,218.5 C461.8,218.1 464.0,217.7 465.5,217.0 C467.0,216.3 467.9,215.4 469.1,214.5 C470.3,213.6 471.6,212.6 472.7,211.8 C473.8,211.1 474.6,210.8 475.5,210.0 C476.4,209.2 477.3,208.5 478.2,207.3 C479.1,206.1 480.0,203.9 480.9,202.7 C481.8,201.5 482.7,200.8 483.6,200.0 C484.5,199.2 485.5,198.5 486.4,197.8 C487.3,197.1 488.4,196.2 489.1,196.0 C489.9,195.8 490.3,196.7 490.9,196.7 C491.5,196.7 492.1,196.7 492.7,196.0 C493.3,195.3 493.9,194.1 494.5,192.7 C495.1,191.2 495.8,189.3 496.4,187.3 C497.0,185.3 497.6,183.2 498.2,180.9 C498.8,178.6 499.4,175.7 500.0,173.6 C500.6,171.5 501.2,169.3 501.8,168.2 C502.4,167.1 503.0,166.9 503.6,166.9 C504.2,166.9 505.0,167.8 505.5,168.2 C506.0,168.6 506.0,169.9 506.4,169.5 C506.8,169.1 507.2,166.5 507.6,165.5 C508.1,164.5 508.6,163.6 509.1,163.3 C509.7,163.1 510.3,164.3 510.9,164.0 C511.5,163.7 512.1,163.1 512.7,161.5 C513.3,159.9 513.9,156.7 514.5,154.5 C515.1,152.3 515.8,150.2 516.4,148.2 C517.0,146.2 517.7,144.0 518.2,142.7 C518.7,141.4 519.2,140.4 519.6,140.6 C520.0,140.8 520.4,142.0 520.9,143.6 C521.4,145.2 522.2,148.3 522.7,150.0 C523.2,151.7 523.6,153.6 524.0,153.6 C524.4,153.6 524.7,151.7 525.1,150.0 C525.5,148.3 525.9,145.1 526.4,143.6 C526.9,142.1 527.7,140.9 528.2,140.9 C528.7,140.9 529.1,141.6 529.5,143.6 C529.9,145.6 530.1,149.0 530.5,152.7 C530.9,156.3 531.3,161.1 531.8,165.5 C532.3,169.9 533.0,174.9 533.6,179.1 C534.2,183.3 534.9,187.7 535.5,190.9 C536.1,194.1 536.7,196.1 537.3,198.2 C537.9,200.3 538.4,201.8 539.1,203.6 C539.9,205.3 540.9,207.3 541.8,208.7 C542.7,210.1 543.8,211.1 544.5,211.8 C545.2,212.5 545.3,212.3 546.2,212.7 C547.1,213.1 549.4,213.8 550.0,214.0" fill="none" stroke="#f8902c" stroke-width="1.7" stroke-linejoin="round" stroke-linecap="round"/></g>
<g clip-path="url(#clipB)"><path d="M303.9,179.0 C304.0,181.7 304.3,190.0 304.6,195.0 C304.9,200.0 305.1,205.0 305.5,209.0 C305.9,213.0 306.7,217.0 307.3,219.0 C307.9,221.0 306.2,220.6 309.1,220.9 C312.1,221.2 318.9,221.0 325.0,221.0 C331.1,221.0 339.7,221.1 345.5,220.9 C351.3,220.7 356.1,220.3 360.0,220.0 C363.9,219.7 366.4,219.5 369.1,219.1 C371.8,218.7 374.6,218.2 376.4,217.8 C378.2,217.4 378.9,217.1 380.0,216.4 C381.1,215.7 381.8,214.5 382.7,213.6 C383.6,212.7 384.6,211.8 385.5,210.9 C386.4,210.0 387.3,209.3 388.2,208.2 C389.1,207.1 390.0,206.0 390.9,204.5 C391.8,203.0 392.7,200.8 393.6,199.1 C394.5,197.4 395.6,195.7 396.4,194.5 C397.2,193.3 397.6,192.4 398.2,191.8 C398.8,191.2 399.4,190.8 400.0,190.9 C400.6,191.1 401.1,191.6 401.8,192.7 C402.6,193.8 403.7,196.5 404.5,197.3 C405.3,198.2 405.8,198.0 406.4,197.8 C407.0,197.6 407.4,196.2 408.2,196.0 C408.9,195.8 410.0,195.6 410.9,196.4 C411.8,197.2 412.7,199.6 413.6,200.9 C414.5,202.2 415.3,203.1 416.4,204.5 C417.5,205.9 418.8,207.9 420.0,209.1 C421.2,210.3 422.2,211.0 423.6,211.8 C425.0,212.7 426.7,213.6 428.2,214.2 C429.7,214.8 431.3,215.4 432.7,215.5 C434.1,215.6 435.3,215.3 436.4,214.5 C437.5,213.7 438.2,212.4 439.1,210.9 C440.0,209.4 440.9,207.2 441.8,205.5 C442.7,203.8 443.6,202.0 444.5,200.9 C445.4,199.8 446.2,199.5 447.3,199.1 C448.4,198.7 449.8,198.5 450.9,198.7 C451.9,198.8 452.7,199.3 453.6,200.0 C454.5,200.7 455.5,201.6 456.4,202.7 C457.3,203.8 458.2,205.3 459.1,206.4 C460.0,207.5 460.7,208.3 461.8,209.1 C462.9,209.8 464.3,210.6 465.5,210.9 C466.7,211.2 467.9,211.1 469.1,210.9 C470.3,210.8 471.6,210.2 472.7,210.0 C473.8,209.8 474.6,209.7 475.5,210.0 C476.4,210.3 477.4,211.2 478.2,211.8 C478.9,212.4 479.4,213.0 480.0,213.6 C480.6,214.2 480.9,214.8 481.8,215.5 C482.7,216.2 484.0,217.2 485.5,217.8 C487.0,218.4 488.8,218.7 490.9,219.1 C493.0,219.5 495.8,219.8 498.2,220.0 C500.6,220.2 503.4,220.6 505.5,220.5 C507.6,220.4 509.4,220.1 510.9,219.6 C512.4,219.1 513.4,218.5 514.5,217.3 C515.6,216.2 516.5,214.7 517.3,212.7 C518.1,210.7 518.5,208.5 519.1,205.5 C519.7,202.5 520.4,198.4 520.9,194.5 C521.4,190.6 521.8,186.3 522.2,181.8 C522.6,177.3 522.9,172.5 523.3,167.3 C523.7,162.2 524.2,155.4 524.5,150.9 C524.8,146.4 525.0,145.0 525.3,140.3 C525.6,135.6 525.8,128.9 526.1,122.8 C526.4,116.7 526.7,110.2 527.0,103.9 C527.3,97.6 527.6,90.5 527.9,85.0 C528.2,79.5 528.4,75.7 528.6,70.9 C528.8,66.1 529.1,61.2 529.3,56.4 C529.5,51.5 529.7,45.4 529.9,41.8 C530.1,38.2 530.2,36.3 530.4,35.0 C530.6,33.7 530.8,34.1 531.0,33.9 C531.2,33.7 531.4,33.7 531.6,33.7 C531.8,33.7 532.0,33.7 532.2,33.9 C532.4,34.1 532.6,33.7 532.8,35.0 C533.0,36.3 533.1,38.2 533.3,41.8 C533.5,45.4 533.8,51.5 534.0,56.4 C534.2,61.2 534.5,66.1 534.7,70.9 C535.0,75.8 535.2,80.0 535.5,85.5 C535.8,91.0 536.2,97.7 536.6,103.9 C537.0,110.1 537.2,116.7 537.6,122.8 C538.0,128.9 538.4,134.6 538.7,140.3 C539.0,146.0 539.2,152.5 539.4,157.0 C539.6,161.5 539.8,164.4 540.1,167.3 C540.5,170.2 541.0,172.5 541.5,174.5 C542.0,176.5 542.5,177.6 543.3,179.1 C544.1,180.6 545.1,182.3 546.2,183.6 C547.3,184.9 549.4,186.4 550.0,187.0 L550.0,221.0 L303.9,221.0 Z" fill="#58f01a" fill-opacity="0.39" stroke="none"/><path d="M303.9,179.0 C304.0,181.7 304.3,190.0 304.6,195.0 C304.9,200.0 305.1,205.0 305.5,209.0 C305.9,213.0 306.7,217.0 307.3,219.0 C307.9,221.0 306.2,220.6 309.1,220.9 C312.1,221.2 318.9,221.0 325.0,221.0 C331.1,221.0 339.7,221.1 345.5,220.9 C351.3,220.7 356.1,220.3 360.0,220.0 C363.9,219.7 366.4,219.5 369.1,219.1 C371.8,218.7 374.6,218.2 376.4,217.8 C378.2,217.4 378.9,217.1 380.0,216.4 C381.1,215.7 381.8,214.5 382.7,213.6 C383.6,212.7 384.6,211.8 385.5,210.9 C386.4,210.0 387.3,209.3 388.2,208.2 C389.1,207.1 390.0,206.0 390.9,204.5 C391.8,203.0 392.7,200.8 393.6,199.1 C394.5,197.4 395.6,195.7 396.4,194.5 C397.2,193.3 397.6,192.4 398.2,191.8 C398.8,191.2 399.4,190.8 400.0,190.9 C400.6,191.1 401.1,191.6 401.8,192.7 C402.6,193.8 403.7,196.5 404.5,197.3 C405.3,198.2 405.8,198.0 406.4,197.8 C407.0,197.6 407.4,196.2 408.2,196.0 C408.9,195.8 410.0,195.6 410.9,196.4 C411.8,197.2 412.7,199.6 413.6,200.9 C414.5,202.2 415.3,203.1 416.4,204.5 C417.5,205.9 418.8,207.9 420.0,209.1 C421.2,210.3 422.2,211.0 423.6,211.8 C425.0,212.7 426.7,213.6 428.2,214.2 C429.7,214.8 431.3,215.4 432.7,215.5 C434.1,215.6 435.3,215.3 436.4,214.5 C437.5,213.7 438.2,212.4 439.1,210.9 C440.0,209.4 440.9,207.2 441.8,205.5 C442.7,203.8 443.6,202.0 444.5,200.9 C445.4,199.8 446.2,199.5 447.3,199.1 C448.4,198.7 449.8,198.5 450.9,198.7 C451.9,198.8 452.7,199.3 453.6,200.0 C454.5,200.7 455.5,201.6 456.4,202.7 C457.3,203.8 458.2,205.3 459.1,206.4 C460.0,207.5 460.7,208.3 461.8,209.1 C462.9,209.8 464.3,210.6 465.5,210.9 C466.7,211.2 467.9,211.1 469.1,210.9 C470.3,210.8 471.6,210.2 472.7,210.0 C473.8,209.8 474.6,209.7 475.5,210.0 C476.4,210.3 477.4,211.2 478.2,211.8 C478.9,212.4 479.4,213.0 480.0,213.6 C480.6,214.2 480.9,214.8 481.8,215.5 C482.7,216.2 484.0,217.2 485.5,217.8 C487.0,218.4 488.8,218.7 490.9,219.1 C493.0,219.5 495.8,219.8 498.2,220.0 C500.6,220.2 503.4,220.6 505.5,220.5 C507.6,220.4 509.4,220.1 510.9,219.6 C512.4,219.1 513.4,218.5 514.5,217.3 C515.6,216.2 516.5,214.7 517.3,212.7 C518.1,210.7 518.5,208.5 519.1,205.5 C519.7,202.5 520.4,198.4 520.9,194.5 C521.4,190.6 521.8,186.3 522.2,181.8 C522.6,177.3 522.9,172.5 523.3,167.3 C523.7,162.2 524.2,155.4 524.5,150.9 C524.8,146.4 525.0,145.0 525.3,140.3 C525.6,135.6 525.8,128.9 526.1,122.8 C526.4,116.7 526.7,110.2 527.0,103.9 C527.3,97.6 527.6,90.5 527.9,85.0 C528.2,79.5 528.4,75.7 528.6,70.9 C528.8,66.1 529.1,61.2 529.3,56.4 C529.5,51.5 529.7,45.4 529.9,41.8 C530.1,38.2 530.2,36.3 530.4,35.0 C530.6,33.7 530.8,34.1 531.0,33.9 C531.2,33.7 531.4,33.7 531.6,33.7 C531.8,33.7 532.0,33.7 532.2,33.9 C532.4,34.1 532.6,33.7 532.8,35.0 C533.0,36.3 533.1,38.2 533.3,41.8 C533.5,45.4 533.8,51.5 534.0,56.4 C534.2,61.2 534.5,66.1 534.7,70.9 C535.0,75.8 535.2,80.0 535.5,85.5 C535.8,91.0 536.2,97.7 536.6,103.9 C537.0,110.1 537.2,116.7 537.6,122.8 C538.0,128.9 538.4,134.6 538.7,140.3 C539.0,146.0 539.2,152.5 539.4,157.0 C539.6,161.5 539.8,164.4 540.1,167.3 C540.5,170.2 541.0,172.5 541.5,174.5 C542.0,176.5 542.5,177.6 543.3,179.1 C544.1,180.6 545.1,182.3 546.2,183.6 C547.3,184.9 549.4,186.4 550.0,187.0" fill="none" stroke="#58f01a" stroke-width="1.7" stroke-linejoin="round" stroke-linecap="round"/></g>
<path d="M157.1,456.7 L157.1,273.7 L397.0,273.7 L397.0,456.7" fill="none" stroke="#8e8e8e" stroke-width="0.9"/>
<path d="M157.1,456.7 L397.0,456.7" fill="none" stroke="#9a9a9a" stroke-width="0.9"/>
<path d="M154.5,456.6h2.6M154.5,419.9h2.6M154.5,383.2h2.6M154.5,346.9h2.6M154.5,310.9h2.6M154.5,274.5h2.6" stroke="#3a3a3a" stroke-width="1" fill="none"/>
<path d="M155.9,449.1h1.2M155.9,441.8h1.2M155.9,434.5h1.2M155.9,427.2h1.2M155.9,412.6h1.2M155.9,405.3h1.2M155.9,398.0h1.2M155.9,390.7h1.2M155.9,376.1h1.2M155.9,368.8h1.2M155.9,361.5h1.2M155.9,354.2h1.2M155.9,339.6h1.2M155.9,332.3h1.2M155.9,325.0h1.2M155.9,317.7h1.2M155.9,303.1h1.2M155.9,295.8h1.2M155.9,288.5h1.2M155.9,281.2h1.2" stroke="#999" stroke-width="0.6" fill="none"/>
<path d="M166.9,456.7v1.4M172.7,456.7v1.4M176.9,456.7v1.4M180.1,456.7v1.4M182.7,456.7v1.4M184.9,456.7v1.4M186.8,456.7v1.4M188.5,456.7v1.4M199.9,456.7v1.4M205.7,456.7v1.4M209.9,456.7v1.4M213.1,456.7v1.4M215.7,456.7v1.4M217.9,456.7v1.4M219.8,456.7v1.4M221.5,456.7v1.4M232.9,456.7v1.4M238.7,456.7v1.4M242.9,456.7v1.4M246.1,456.7v1.4M248.7,456.7v1.4M250.9,456.7v1.4M252.8,456.7v1.4M254.5,456.7v1.4M265.9,456.7v1.4M271.7,456.7v1.4M275.9,456.7v1.4M279.1,456.7v1.4M281.7,456.7v1.4M283.9,456.7v1.4M285.8,456.7v1.4M287.5,456.7v1.4M298.9,456.7v1.4M304.7,456.7v1.4M308.9,456.7v1.4M312.1,456.7v1.4M314.7,456.7v1.4M316.9,456.7v1.4M318.8,456.7v1.4M320.5,456.7v1.4M331.9,456.7v1.4M337.7,456.7v1.4M341.9,456.7v1.4M345.1,456.7v1.4M347.7,456.7v1.4M349.9,456.7v1.4M351.8,456.7v1.4M353.5,456.7v1.4M364.9,456.7v1.4M370.7,456.7v1.4M374.9,456.7v1.4M378.1,456.7v1.4M380.7,456.7v1.4M382.9,456.7v1.4M384.8,456.7v1.4M386.5,456.7v1.4" stroke="#808080" stroke-width="0.7" fill="none"/>
<path d="M157.0,456.4v3.0M190.0,456.4v3.0M223.0,456.4v3.0M256.0,456.4v3.0M289.0,456.4v3.0M322.0,456.4v3.0M355.0,456.4v3.0M388.0,456.4v3.0" stroke="#3a3a3a" stroke-width="1" fill="none"/>
<g clip-path="url(#clipC)"><path d="M157.3,385.9 C157.4,389.9 157.5,402.7 157.7,410.0 C157.8,417.3 158.0,423.2 158.2,429.5 C158.4,435.8 158.6,443.4 159.1,447.7 C159.6,451.9 160.1,453.6 160.9,455.0 C161.7,456.4 161.5,455.8 164.0,455.9 C166.5,456.0 172.0,455.9 176.0,455.9 C180.0,455.9 185.3,455.9 188.0,455.9 C190.7,455.9 190.8,455.9 192.0,455.8 C193.2,455.7 192.9,455.5 195.0,455.2 C197.1,454.9 201.7,454.5 204.5,454.1 C207.3,453.7 209.4,453.3 211.8,452.8 C214.2,452.3 217.3,451.6 219.1,451.0 C220.9,450.4 221.5,450.2 222.7,449.5 C223.9,448.8 225.2,447.7 226.4,446.8 C227.6,445.9 228.9,444.7 230.0,444.1 C231.1,443.5 231.9,443.3 232.7,443.2 C233.4,443.1 233.7,443.8 234.5,443.5 C235.3,443.2 236.2,441.8 237.3,441.2 C238.4,440.6 239.7,439.8 240.9,439.6 C242.1,439.4 243.4,440.3 244.5,440.2 C245.6,440.1 246.4,439.0 247.3,439.0 C248.2,439.0 249.1,439.4 250.0,440.1 C250.9,440.8 251.8,442.3 252.7,443.2 C253.6,444.1 254.6,444.9 255.5,445.5 C256.4,446.1 257.1,446.6 258.2,446.8 C259.3,447.1 260.6,447.1 262.0,447.0 C263.4,446.9 265.2,447.0 266.4,445.9 C267.6,444.8 268.4,443.2 269.1,440.5 C269.8,437.8 270.0,433.8 270.4,429.5 C270.8,425.2 271.1,420.4 271.5,415.0 C271.9,409.6 272.3,402.6 272.7,396.8 C273.1,391.0 273.6,386.0 273.9,380.0 C274.2,374.0 274.4,367.4 274.7,360.8 C275.0,354.2 275.5,347.3 275.9,340.6 C276.3,333.9 276.8,327.1 277.3,320.4 C277.8,313.7 278.5,304.9 278.9,300.2 C279.3,295.5 279.5,292.1 279.9,292.1 C280.3,292.1 280.7,295.5 281.3,300.2 C281.9,304.9 282.6,313.7 283.3,320.4 C284.0,327.1 284.8,333.9 285.4,340.6 C286.0,347.3 286.5,354.2 287.0,360.8 C287.5,367.4 288.1,375.1 288.6,380.0 C289.1,384.9 289.4,386.9 289.8,390.0 C290.2,393.1 290.5,395.0 290.9,398.6 C291.3,402.2 291.8,407.8 292.2,411.4 C292.6,415.0 293.1,417.5 293.6,420.5 C294.1,423.5 294.6,426.8 295.1,429.5 C295.6,432.2 296.0,434.5 296.5,436.8 C297.0,439.1 297.7,441.7 298.2,443.2 C298.7,444.7 298.8,444.8 299.5,445.9 C300.2,446.9 301.6,448.3 302.7,449.5 C303.8,450.7 304.9,452.2 306.4,453.2 C307.9,454.2 309.5,455.0 311.8,455.4 C314.1,455.8 312.0,455.7 320.0,455.8 C328.0,455.9 348.0,455.8 360.0,455.8 C372.0,455.8 386.7,455.8 392.0,455.8 L392.0,456.0 L157.3,456.0 Z" fill="#fb3034" fill-opacity="0.39" stroke="none"/><path d="M157.3,385.9 C157.4,389.9 157.5,402.7 157.7,410.0 C157.8,417.3 158.0,423.2 158.2,429.5 C158.4,435.8 158.6,443.4 159.1,447.7 C159.6,451.9 160.1,453.6 160.9,455.0 C161.7,456.4 161.5,455.8 164.0,455.9 C166.5,456.0 172.0,455.9 176.0,455.9 C180.0,455.9 185.3,455.9 188.0,455.9 C190.7,455.9 190.8,455.9 192.0,455.8 C193.2,455.7 192.9,455.5 195.0,455.2 C197.1,454.9 201.7,454.5 204.5,454.1 C207.3,453.7 209.4,453.3 211.8,452.8 C214.2,452.3 217.3,451.6 219.1,451.0 C220.9,450.4 221.5,450.2 222.7,449.5 C223.9,448.8 225.2,447.7 226.4,446.8 C227.6,445.9 228.9,444.7 230.0,444.1 C231.1,443.5 231.9,443.3 232.7,443.2 C233.4,443.1 233.7,443.8 234.5,443.5 C235.3,443.2 236.2,441.8 237.3,441.2 C238.4,440.6 239.7,439.8 240.9,439.6 C242.1,439.4 243.4,440.3 244.5,440.2 C245.6,440.1 246.4,439.0 247.3,439.0 C248.2,439.0 249.1,439.4 250.0,440.1 C250.9,440.8 251.8,442.3 252.7,443.2 C253.6,444.1 254.6,444.9 255.5,445.5 C256.4,446.1 257.1,446.6 258.2,446.8 C259.3,447.1 260.6,447.1 262.0,447.0 C263.4,446.9 265.2,447.0 266.4,445.9 C267.6,444.8 268.4,443.2 269.1,440.5 C269.8,437.8 270.0,433.8 270.4,429.5 C270.8,425.2 271.1,420.4 271.5,415.0 C271.9,409.6 272.3,402.6 272.7,396.8 C273.1,391.0 273.6,386.0 273.9,380.0 C274.2,374.0 274.4,367.4 274.7,360.8 C275.0,354.2 275.5,347.3 275.9,340.6 C276.3,333.9 276.8,327.1 277.3,320.4 C277.8,313.7 278.5,304.9 278.9,300.2 C279.3,295.5 279.5,292.1 279.9,292.1 C280.3,292.1 280.7,295.5 281.3,300.2 C281.9,304.9 282.6,313.7 283.3,320.4 C284.0,327.1 284.8,333.9 285.4,340.6 C286.0,347.3 286.5,354.2 287.0,360.8 C287.5,367.4 288.1,375.1 288.6,380.0 C289.1,384.9 289.4,386.9 289.8,390.0 C290.2,393.1 290.5,395.0 290.9,398.6 C291.3,402.2 291.8,407.8 292.2,411.4 C292.6,415.0 293.1,417.5 293.6,420.5 C294.1,423.5 294.6,426.8 295.1,429.5 C295.6,432.2 296.0,434.5 296.5,436.8 C297.0,439.1 297.7,441.7 298.2,443.2 C298.7,444.7 298.8,444.8 299.5,445.9 C300.2,446.9 301.6,448.3 302.7,449.5 C303.8,450.7 304.9,452.2 306.4,453.2 C307.9,454.2 309.5,455.0 311.8,455.4 C314.1,455.8 312.0,455.7 320.0,455.8 C328.0,455.9 348.0,455.8 360.0,455.8 C372.0,455.8 386.7,455.8 392.0,455.8" fill="none" stroke="#fb3034" stroke-width="1.7" stroke-linejoin="round" stroke-linecap="round"/></g>
<g clip-path="url(#clipC)"><path d="M225.0,455.8 C225.8,455.7 227.9,455.3 230.0,455.0 C232.1,454.7 235.5,454.7 237.3,454.1 C239.1,453.5 239.7,452.2 240.9,451.4 C242.1,450.6 243.3,449.7 244.5,449.2 C245.7,448.7 247.1,449.0 248.2,448.6 C249.3,448.2 250.0,447.2 250.9,446.8 C251.8,446.4 252.7,446.4 253.6,446.5 C254.5,446.6 255.5,447.8 256.4,447.7 C257.3,447.6 258.4,446.5 259.1,445.9 C259.9,445.3 260.3,444.2 260.9,444.1 C261.5,444.0 261.8,445.0 262.7,445.0 C263.6,445.0 264.7,444.4 266.4,444.1 C268.1,443.8 270.6,443.3 273.0,443.2 C275.4,443.1 279.0,443.5 280.9,443.7 C282.8,443.9 283.3,443.9 284.5,444.1 C285.7,444.3 287.0,444.7 288.2,445.0 C289.4,445.3 290.6,445.6 291.8,445.9 C293.0,446.2 294.4,446.9 295.5,446.8 C296.6,446.7 297.4,446.1 298.2,445.0 C298.9,443.9 299.4,442.5 300.0,440.5 C300.6,438.5 301.1,435.9 301.5,433.2 C301.9,430.5 302.2,427.7 302.7,424.1 C303.1,420.5 303.7,415.6 304.2,411.4 C304.7,407.1 305.1,402.9 305.5,398.6 C305.9,394.4 306.3,389.3 306.7,385.9 C307.1,382.5 307.6,380.5 308.0,378.0 C308.4,375.5 308.6,373.8 309.0,370.9 C309.4,368.0 309.8,363.8 310.2,360.8 C310.6,357.8 311.1,355.0 311.6,352.7 C312.1,350.4 312.7,347.3 313.2,347.1 C313.7,346.9 314.2,350.1 314.6,351.7 C315.0,353.3 315.2,355.3 315.7,356.8 C316.2,358.3 317.1,358.8 317.7,360.8 C318.3,362.8 318.7,366.0 319.1,368.9 C319.6,371.8 319.9,375.5 320.4,378.0 C320.8,380.5 321.3,381.6 321.8,384.1 C322.3,386.6 323.0,390.2 323.6,393.2 C324.2,396.2 324.7,399.3 325.5,402.3 C326.3,405.3 327.3,408.7 328.2,411.4 C329.1,414.1 330.0,416.5 330.9,418.6 C331.8,420.7 332.5,422.1 333.6,424.1 C334.7,426.1 336.1,428.4 337.3,430.5 C338.5,432.6 339.7,435.0 340.9,436.8 C342.1,438.6 343.3,440.0 344.5,441.4 C345.7,442.8 346.7,443.9 348.2,445.0 C349.7,446.1 351.8,446.8 353.6,447.7 C355.4,448.6 357.3,449.6 359.1,450.5 C360.9,451.4 362.4,452.1 364.5,452.8 C366.6,453.5 369.4,454.2 371.8,454.6 C374.2,455.1 375.7,455.3 379.1,455.5 C382.5,455.7 389.9,455.8 392.0,455.8 L392.0,456.0 L225.0,456.0 Z" fill="#12baf7" fill-opacity="0.44" stroke="none"/><path d="M225.0,455.8 C225.8,455.7 227.9,455.3 230.0,455.0 C232.1,454.7 235.5,454.7 237.3,454.1 C239.1,453.5 239.7,452.2 240.9,451.4 C242.1,450.6 243.3,449.7 244.5,449.2 C245.7,448.7 247.1,449.0 248.2,448.6 C249.3,448.2 250.0,447.2 250.9,446.8 C251.8,446.4 252.7,446.4 253.6,446.5 C254.5,446.6 255.5,447.8 256.4,447.7 C257.3,447.6 258.4,446.5 259.1,445.9 C259.9,445.3 260.3,444.2 260.9,444.1 C261.5,444.0 261.8,445.0 262.7,445.0 C263.6,445.0 264.7,444.4 266.4,444.1 C268.1,443.8 270.6,443.3 273.0,443.2 C275.4,443.1 279.0,443.5 280.9,443.7 C282.8,443.9 283.3,443.9 284.5,444.1 C285.7,444.3 287.0,444.7 288.2,445.0 C289.4,445.3 290.6,445.6 291.8,445.9 C293.0,446.2 294.4,446.9 295.5,446.8 C296.6,446.7 297.4,446.1 298.2,445.0 C298.9,443.9 299.4,442.5 300.0,440.5 C300.6,438.5 301.1,435.9 301.5,433.2 C301.9,430.5 302.2,427.7 302.7,424.1 C303.1,420.5 303.7,415.6 304.2,411.4 C304.7,407.1 305.1,402.9 305.5,398.6 C305.9,394.4 306.3,389.3 306.7,385.9 C307.1,382.5 307.6,380.5 308.0,378.0 C308.4,375.5 308.6,373.8 309.0,370.9 C309.4,368.0 309.8,363.8 310.2,360.8 C310.6,357.8 311.1,355.0 311.6,352.7 C312.1,350.4 312.7,347.3 313.2,347.1 C313.7,346.9 314.2,350.1 314.6,351.7 C315.0,353.3 315.2,355.3 315.7,356.8 C316.2,358.3 317.1,358.8 317.7,360.8 C318.3,362.8 318.7,366.0 319.1,368.9 C319.6,371.8 319.9,375.5 320.4,378.0 C320.8,380.5 321.3,381.6 321.8,384.1 C322.3,386.6 323.0,390.2 323.6,393.2 C324.2,396.2 324.7,399.3 325.5,402.3 C326.3,405.3 327.3,408.7 328.2,411.4 C329.1,414.1 330.0,416.5 330.9,418.6 C331.8,420.7 332.5,422.1 333.6,424.1 C334.7,426.1 336.1,428.4 337.3,430.5 C338.5,432.6 339.7,435.0 340.9,436.8 C342.1,438.6 343.3,440.0 344.5,441.4 C345.7,442.8 346.7,443.9 348.2,445.0 C349.7,446.1 351.8,446.8 353.6,447.7 C355.4,448.6 357.3,449.6 359.1,450.5 C360.9,451.4 362.4,452.1 364.5,452.8 C366.6,453.5 369.4,454.2 371.8,454.6 C374.2,455.1 375.7,455.3 379.1,455.5 C382.5,455.7 389.9,455.8 392.0,455.8" fill="none" stroke="#12baf7" stroke-width="1.7" stroke-linejoin="round" stroke-linecap="round"/></g>
<g clip-path="url(#clipC)"><path d="M157.3,442.0 C157.5,443.7 158.1,449.8 158.5,452.0 C158.9,454.2 153.1,454.9 160.0,455.5 C166.9,456.1 186.7,455.8 200.0,455.8 C213.3,455.8 232.0,455.9 240.0,455.6 C248.0,455.3 245.3,454.7 248.2,454.1 C251.1,453.6 254.9,453.1 257.3,452.3 C259.7,451.5 261.2,450.4 262.7,449.5 C264.2,448.6 265.2,447.6 266.4,446.8 C267.6,446.1 268.5,445.3 270.0,445.0 C271.5,444.7 273.7,444.9 275.5,445.0 C277.3,445.1 279.1,445.7 280.9,445.9 C282.7,446.1 285.0,446.4 286.4,446.3 C287.8,446.2 288.4,445.4 289.1,445.0 C289.9,444.6 290.1,444.0 290.9,444.1 C291.6,444.2 292.7,445.1 293.6,445.5 C294.5,445.9 295.5,446.3 296.4,446.3 C297.3,446.3 298.2,445.7 299.1,445.5 C300.0,445.3 300.9,444.9 301.8,445.0 C302.7,445.1 303.4,445.4 304.5,445.9 C305.6,446.3 307.0,447.1 308.2,447.7 C309.4,448.3 310.6,449.1 311.8,449.5 C313.0,449.9 314.3,450.0 315.5,449.9 C316.7,449.8 318.1,449.4 319.1,448.6 C320.2,447.8 321.0,446.8 321.8,445.0 C322.6,443.2 323.5,440.6 324.2,437.7 C324.9,434.8 325.4,431.2 326.0,427.7 C326.6,424.2 327.0,420.7 327.5,416.8 C328.0,412.9 328.4,408.3 328.9,404.1 C329.4,399.9 329.9,395.4 330.4,391.4 C330.8,387.4 331.2,383.2 331.6,380.0 C332.0,376.8 332.4,376.1 332.8,372.4 C333.2,368.7 333.8,362.2 334.3,357.8 C334.8,353.4 335.1,349.2 335.7,346.2 C336.3,343.2 337.1,339.9 337.8,339.6 C338.5,339.4 338.9,341.9 339.6,344.7 C340.3,347.5 341.1,352.8 341.8,356.4 C342.5,360.0 343.0,362.6 343.6,366.5 C344.2,370.4 345.0,376.8 345.5,380.0 C346.0,383.2 346.2,383.8 346.6,386.0 C347.1,388.2 347.6,390.5 348.2,393.2 C348.8,395.9 349.3,399.6 350.0,402.3 C350.7,405.0 351.4,407.1 352.2,409.5 C352.9,411.9 353.7,414.4 354.5,416.8 C355.3,419.2 356.1,421.8 356.9,424.1 C357.7,426.4 358.3,428.5 359.1,430.5 C359.9,432.5 360.9,434.4 361.8,435.9 C362.7,437.4 363.6,438.0 364.5,439.5 C365.4,441.0 366.2,443.3 367.3,445.0 C368.4,446.7 369.5,448.1 370.9,449.5 C372.3,450.9 373.8,452.2 375.5,453.2 C377.2,454.2 378.1,455.0 380.9,455.4 C383.6,455.8 390.1,455.7 392.0,455.8 L392.0,456.0 L157.3,456.0 Z" fill="#f8902c" fill-opacity="0.4" stroke="none"/><path d="M157.3,442.0 C157.5,443.7 158.1,449.8 158.5,452.0 C158.9,454.2 153.1,454.9 160.0,455.5 C166.9,456.1 186.7,455.8 200.0,455.8 C213.3,455.8 232.0,455.9 240.0,455.6 C248.0,455.3 245.3,454.7 248.2,454.1 C251.1,453.6 254.9,453.1 257.3,452.3 C259.7,451.5 261.2,450.4 262.7,449.5 C264.2,448.6 265.2,447.6 266.4,446.8 C267.6,446.1 268.5,445.3 270.0,445.0 C271.5,444.7 273.7,444.9 275.5,445.0 C277.3,445.1 279.1,445.7 280.9,445.9 C282.7,446.1 285.0,446.4 286.4,446.3 C287.8,446.2 288.4,445.4 289.1,445.0 C289.9,444.6 290.1,444.0 290.9,444.1 C291.6,444.2 292.7,445.1 293.6,445.5 C294.5,445.9 295.5,446.3 296.4,446.3 C297.3,446.3 298.2,445.7 299.1,445.5 C300.0,445.3 300.9,444.9 301.8,445.0 C302.7,445.1 303.4,445.4 304.5,445.9 C305.6,446.3 307.0,447.1 308.2,447.7 C309.4,448.3 310.6,449.1 311.8,449.5 C313.0,449.9 314.3,450.0 315.5,449.9 C316.7,449.8 318.1,449.4 319.1,448.6 C320.2,447.8 321.0,446.8 321.8,445.0 C322.6,443.2 323.5,440.6 324.2,437.7 C324.9,434.8 325.4,431.2 326.0,427.7 C326.6,424.2 327.0,420.7 327.5,416.8 C328.0,412.9 328.4,408.3 328.9,404.1 C329.4,399.9 329.9,395.4 330.4,391.4 C330.8,387.4 331.2,383.2 331.6,380.0 C332.0,376.8 332.4,376.1 332.8,372.4 C333.2,368.7 333.8,362.2 334.3,357.8 C334.8,353.4 335.1,349.2 335.7,346.2 C336.3,343.2 337.1,339.9 337.8,339.6 C338.5,339.4 338.9,341.9 339.6,344.7 C340.3,347.5 341.1,352.8 341.8,356.4 C342.5,360.0 343.0,362.6 343.6,366.5 C344.2,370.4 345.0,376.8 345.5,380.0 C346.0,383.2 346.2,383.8 346.6,386.0 C347.1,388.2 347.6,390.5 348.2,393.2 C348.8,395.9 349.3,399.6 350.0,402.3 C350.7,405.0 351.4,407.1 352.2,409.5 C352.9,411.9 353.7,414.4 354.5,416.8 C355.3,419.2 356.1,421.8 356.9,424.1 C357.7,426.4 358.3,428.5 359.1,430.5 C359.9,432.5 360.9,434.4 361.8,435.9 C362.7,437.4 363.6,438.0 364.5,439.5 C365.4,441.0 366.2,443.3 367.3,445.0 C368.4,446.7 369.5,448.1 370.9,449.5 C372.3,450.9 373.8,452.2 375.5,453.2 C377.2,454.2 378.1,455.0 380.9,455.4 C383.6,455.8 390.1,455.7 392.0,455.8" fill="none" stroke="#f8902c" stroke-width="1.7" stroke-linejoin="round" stroke-linecap="round"/></g>
<g clip-path="url(#clipC)"><path d="M157.3,445.9 C157.5,446.8 158.0,449.6 158.3,451.0 C158.6,452.4 158.7,453.3 159.1,454.1 C159.5,454.9 154.2,455.5 161.0,455.8 C167.8,456.1 187.7,455.8 200.0,455.8 C212.3,455.8 228.2,456.0 235.0,455.8 C241.8,455.6 238.7,455.1 240.9,454.6 C243.1,454.1 245.8,453.5 248.2,452.8 C250.6,452.1 253.7,451.2 255.5,450.5 C257.3,449.8 257.9,449.4 259.1,448.6 C260.3,447.8 261.6,446.9 262.7,445.9 C263.8,444.9 264.6,443.5 265.5,442.6 C266.4,441.7 267.3,441.0 268.2,440.5 C269.1,440.0 270.0,439.8 270.9,439.5 C271.8,439.2 272.7,438.8 273.6,439.0 C274.5,439.2 275.6,439.9 276.4,440.5 C277.2,441.1 277.6,441.9 278.2,442.6 C278.8,443.4 279.2,444.4 280.0,445.0 C280.8,445.6 281.6,446.0 282.7,446.3 C283.8,446.6 284.9,446.8 286.4,446.8 C287.9,446.8 290.0,446.5 291.8,446.5 C293.6,446.5 295.8,446.8 297.3,446.8 C298.8,446.9 299.7,447.0 300.9,446.8 C302.1,446.6 303.4,446.5 304.5,445.9 C305.6,445.3 306.4,443.9 307.3,443.2 C308.2,442.5 309.1,442.3 310.0,441.5 C310.9,440.7 311.8,438.9 312.7,438.3 C313.6,437.7 314.6,437.7 315.5,437.7 C316.4,437.7 317.4,438.2 318.2,438.3 C319.0,438.4 319.8,437.8 320.5,438.0 C321.2,438.2 321.7,438.9 322.7,439.5 C323.7,440.1 325.2,440.8 326.4,441.4 C327.6,442.0 329.1,442.6 330.0,443.2 C330.9,443.8 330.9,444.2 331.8,445.0 C332.7,445.8 334.3,447.1 335.5,447.7 C336.7,448.3 338.1,448.7 339.1,448.6 C340.2,448.6 341.1,448.3 341.8,447.4 C342.6,446.5 343.0,445.3 343.6,443.2 C344.2,441.1 344.9,438.2 345.5,435.0 C346.1,431.8 346.4,428.0 346.9,424.1 C347.3,420.2 347.8,415.6 348.2,411.4 C348.6,407.1 349.1,402.2 349.6,398.6 C350.1,395.0 350.6,392.9 351.0,390.0 C351.4,387.1 351.8,384.7 352.2,381.0 C352.6,377.3 353.1,372.1 353.5,368.0 C353.9,363.9 354.4,359.5 354.9,356.4 C355.4,353.2 355.8,350.8 356.4,349.1 C357.0,347.4 357.8,346.2 358.5,346.2 C359.2,346.2 360.0,347.2 360.7,349.1 C361.4,351.0 362.0,354.7 362.5,357.8 C363.0,360.9 363.2,364.4 363.6,368.0 C364.0,371.6 364.6,375.4 365.1,379.6 C365.6,383.8 366.2,389.4 366.7,393.2 C367.2,397.0 367.6,399.3 368.2,402.3 C368.8,405.3 369.4,408.4 370.0,411.4 C370.6,414.4 371.2,417.5 371.8,420.5 C372.4,423.5 372.9,426.8 373.6,429.5 C374.3,432.2 375.0,434.5 375.8,436.8 C376.6,439.1 377.4,441.2 378.2,443.2 C379.0,445.2 380.0,447.1 380.9,448.6 C381.8,450.1 382.5,451.2 383.6,452.3 C384.7,453.4 385.9,454.4 387.3,455.0 C388.7,455.6 390.2,455.8 391.8,455.9 C393.4,456.0 396.3,455.9 397.2,455.9 L397.2,456.0 L157.3,456.0 Z" fill="#58f01a" fill-opacity="0.39" stroke="none"/><path d="M157.3,445.9 C157.5,446.8 158.0,449.6 158.3,451.0 C158.6,452.4 158.7,453.3 159.1,454.1 C159.5,454.9 154.2,455.5 161.0,455.8 C167.8,456.1 187.7,455.8 200.0,455.8 C212.3,455.8 228.2,456.0 235.0,455.8 C241.8,455.6 238.7,455.1 240.9,454.6 C243.1,454.1 245.8,453.5 248.2,452.8 C250.6,452.1 253.7,451.2 255.5,450.5 C257.3,449.8 257.9,449.4 259.1,448.6 C260.3,447.8 261.6,446.9 262.7,445.9 C263.8,444.9 264.6,443.5 265.5,442.6 C266.4,441.7 267.3,441.0 268.2,440.5 C269.1,440.0 270.0,439.8 270.9,439.5 C271.8,439.2 272.7,438.8 273.6,439.0 C274.5,439.2 275.6,439.9 276.4,440.5 C277.2,441.1 277.6,441.9 278.2,442.6 C278.8,443.4 279.2,444.4 280.0,445.0 C280.8,445.6 281.6,446.0 282.7,446.3 C283.8,446.6 284.9,446.8 286.4,446.8 C287.9,446.8 290.0,446.5 291.8,446.5 C293.6,446.5 295.8,446.8 297.3,446.8 C298.8,446.9 299.7,447.0 300.9,446.8 C302.1,446.6 303.4,446.5 304.5,445.9 C305.6,445.3 306.4,443.9 307.3,443.2 C308.2,442.5 309.1,442.3 310.0,441.5 C310.9,440.7 311.8,438.9 312.7,438.3 C313.6,437.7 314.6,437.7 315.5,437.7 C316.4,437.7 317.4,438.2 318.2,438.3 C319.0,438.4 319.8,437.8 320.5,438.0 C321.2,438.2 321.7,438.9 322.7,439.5 C323.7,440.1 325.2,440.8 326.4,441.4 C327.6,442.0 329.1,442.6 330.0,443.2 C330.9,443.8 330.9,444.2 331.8,445.0 C332.7,445.8 334.3,447.1 335.5,447.7 C336.7,448.3 338.1,448.7 339.1,448.6 C340.2,448.6 341.1,448.3 341.8,447.4 C342.6,446.5 343.0,445.3 343.6,443.2 C344.2,441.1 344.9,438.2 345.5,435.0 C346.1,431.8 346.4,428.0 346.9,424.1 C347.3,420.2 347.8,415.6 348.2,411.4 C348.6,407.1 349.1,402.2 349.6,398.6 C350.1,395.0 350.6,392.9 351.0,390.0 C351.4,387.1 351.8,384.7 352.2,381.0 C352.6,377.3 353.1,372.1 353.5,368.0 C353.9,363.9 354.4,359.5 354.9,356.4 C355.4,353.2 355.8,350.8 356.4,349.1 C357.0,347.4 357.8,346.2 358.5,346.2 C359.2,346.2 360.0,347.2 360.7,349.1 C361.4,351.0 362.0,354.7 362.5,357.8 C363.0,360.9 363.2,364.4 363.6,368.0 C364.0,371.6 364.6,375.4 365.1,379.6 C365.6,383.8 366.2,389.4 366.7,393.2 C367.2,397.0 367.6,399.3 368.2,402.3 C368.8,405.3 369.4,408.4 370.0,411.4 C370.6,414.4 371.2,417.5 371.8,420.5 C372.4,423.5 372.9,426.8 373.6,429.5 C374.3,432.2 375.0,434.5 375.8,436.8 C376.6,439.1 377.4,441.2 378.2,443.2 C379.0,445.2 380.0,447.1 380.9,448.6 C381.8,450.1 382.5,451.2 383.6,452.3 C384.7,453.4 385.9,454.4 387.3,455.0 C388.7,455.6 390.2,455.8 391.8,455.9 C393.4,456.0 396.3,455.9 397.2,455.9" fill="none" stroke="#58f01a" stroke-width="1.7" stroke-linejoin="round" stroke-linecap="round"/></g>
<text x="2.4" y="11.8" font-size="13.2" text-anchor="start" textLength="10.2" lengthAdjust="spacingAndGlyphs">A</text>
<text x="283.0" y="11.5" font-size="12.4" text-anchor="start" textLength="8.8" lengthAdjust="spacingAndGlyphs">B</text>
<text transform="translate(133.5,273.1) scale(1,0.86)" font-size="12.6" textLength="9.2" lengthAdjust="spacingAndGlyphs">C</text>
<text x="7.8" y="57.7" font-size="9.4" text-anchor="start" textLength="15.4" lengthAdjust="spacingAndGlyphs">600</text>
<text x="6.0" y="114.7" font-size="9.4" text-anchor="start" textLength="15.7" lengthAdjust="spacingAndGlyphs">400</text>
<text x="6.0" y="171.7" font-size="9.4" text-anchor="start" textLength="15.7" lengthAdjust="spacingAndGlyphs">200</text>
<text x="16.3" y="224.6" font-size="9.4" text-anchor="start" textLength="4.5" lengthAdjust="spacingAndGlyphs">0</text>
<text x="285.0" y="61.0" font-size="9.4" text-anchor="start" textLength="15.5" lengthAdjust="spacingAndGlyphs">600</text>
<text x="283.2" y="117.6" font-size="9.4" text-anchor="start" textLength="16.1" lengthAdjust="spacingAndGlyphs">400</text>
<text x="282.8" y="172.0" font-size="9.4" text-anchor="start" textLength="16.5" lengthAdjust="spacingAndGlyphs">200</text>
<text x="293.1" y="225.7" font-size="9.4" text-anchor="start" textLength="5.1" lengthAdjust="spacingAndGlyphs">0</text>
<text x="137.5" y="282.8" font-size="9.4" text-anchor="start" textLength="15.7" lengthAdjust="spacingAndGlyphs">500</text>
<text x="136.4" y="317.0" font-size="9.4" text-anchor="start" textLength="16.1" lengthAdjust="spacingAndGlyphs">400</text>
<text x="137.5" y="354.9" font-size="9.4" text-anchor="start" textLength="15.5" lengthAdjust="spacingAndGlyphs">300</text>
<text x="136.2" y="388.9" font-size="9.4" text-anchor="start" textLength="15.0" lengthAdjust="spacingAndGlyphs">200</text>
<text x="136.8" y="428.0" font-size="9.4" text-anchor="start" textLength="14.6" lengthAdjust="spacingAndGlyphs">100</text>
<text x="146.9" y="459.0" font-size="9.4" text-anchor="start" textLength="4.4" lengthAdjust="spacingAndGlyphs">0</text>
<text x="21.5" y="241.5" font-size="11.0" text-anchor="start" textLength="11.0" lengthAdjust="spacingAndGlyphs" stroke-width="0.4">10</text>
<text x="32.3" y="234.1" font-size="10.0" text-anchor="start" textLength="4.7" lengthAdjust="spacingAndGlyphs" stroke-width="0.35">0</text>
<text x="48.900000000000006" y="241.5" font-size="11.0" text-anchor="start" textLength="11.7" lengthAdjust="spacingAndGlyphs" stroke-width="0.4">10</text>
<text x="62.5" y="234.1" font-size="10.0" text-anchor="start" textLength="3.2" lengthAdjust="spacingAndGlyphs" stroke-width="0.35">1</text>
<text x="80.9" y="241.5" font-size="11.0" text-anchor="start" textLength="11.4" lengthAdjust="spacingAndGlyphs" stroke-width="0.4">10</text>
<text x="92.10000000000001" y="234.1" font-size="10.0" text-anchor="start" textLength="4.8" lengthAdjust="spacingAndGlyphs" stroke-width="0.35">2</text>
<text x="112.2" y="241.5" font-size="11.0" text-anchor="start" textLength="11.4" lengthAdjust="spacingAndGlyphs" stroke-width="0.4">10</text>
<text x="123.60000000000001" y="234.1" font-size="10.0" text-anchor="start" textLength="5.2" lengthAdjust="spacingAndGlyphs" stroke-width="0.35">3</text>
<text x="143.89999999999998" y="241.5" font-size="11.0" text-anchor="start" textLength="11.4" lengthAdjust="spacingAndGlyphs" stroke-width="0.4">10</text>
<text x="155.70000000000002" y="234.1" font-size="10.0" text-anchor="start" textLength="5.6" lengthAdjust="spacingAndGlyphs" stroke-width="0.35">4</text>
<text x="175.39999999999998" y="241.5" font-size="11.0" text-anchor="start" textLength="11.0" lengthAdjust="spacingAndGlyphs" stroke-width="0.4">10</text>
<text x="188.3" y="234.1" font-size="10.0" text-anchor="start" textLength="5.3" lengthAdjust="spacingAndGlyphs" stroke-width="0.35">5</text>
<text x="209.6" y="241.5" font-size="11.0" text-anchor="start" textLength="11.4" lengthAdjust="spacingAndGlyphs" stroke-width="0.4">10</text>
<text x="223.3" y="234.1" font-size="10.0" text-anchor="start" textLength="5.0" lengthAdjust="spacingAndGlyphs" stroke-width="0.35">6</text>
<text x="241.2" y="241.5" font-size="11.0" text-anchor="start" textLength="11.4" lengthAdjust="spacingAndGlyphs" stroke-width="0.4">10</text>
<text x="253.9" y="234.1" font-size="10.0" text-anchor="start" textLength="5.0" lengthAdjust="spacingAndGlyphs" stroke-width="0.35">7</text>
<text x="295.3" y="240.2" font-size="10.6" text-anchor="start" textLength="11.2" lengthAdjust="spacingAndGlyphs" stroke-width="0.4">10</text>
<text x="306.2" y="232.1" font-size="9.6" text-anchor="start" textLength="4.5" lengthAdjust="spacingAndGlyphs" stroke-width="0.35">0</text>
<text x="323.4" y="240.2" font-size="10.6" text-anchor="start" textLength="11.4" lengthAdjust="spacingAndGlyphs" stroke-width="0.4">10</text>
<text x="335.7" y="232.1" font-size="9.6" text-anchor="start" textLength="3.2" lengthAdjust="spacingAndGlyphs" stroke-width="0.35">1</text>
<text x="355.8" y="240.2" font-size="10.6" text-anchor="start" textLength="11.3" lengthAdjust="spacingAndGlyphs" stroke-width="0.4">10</text>
<text x="366.5" y="232.1" font-size="9.6" text-anchor="start" textLength="4.6" lengthAdjust="spacingAndGlyphs" stroke-width="0.35">2</text>
<text x="386.0" y="240.2" font-size="10.6" text-anchor="start" textLength="11.6" lengthAdjust="spacingAndGlyphs" stroke-width="0.4">10</text>
<text x="397.4" y="232.1" font-size="9.6" text-anchor="start" textLength="5.0" lengthAdjust="spacingAndGlyphs" stroke-width="0.35">3</text>
<text x="417.59999999999997" y="240.2" font-size="10.6" text-anchor="start" textLength="11.4" lengthAdjust="spacingAndGlyphs" stroke-width="0.4">10</text>
<text x="429.7" y="232.1" font-size="9.6" text-anchor="start" textLength="5.0" lengthAdjust="spacingAndGlyphs" stroke-width="0.35">4</text>
<text x="448.9" y="240.2" font-size="10.6" text-anchor="start" textLength="11.1" lengthAdjust="spacingAndGlyphs" stroke-width="0.4">10</text>
<text x="462.2" y="232.1" font-size="9.6" text-anchor="start" textLength="5.0" lengthAdjust="spacingAndGlyphs" stroke-width="0.35">5</text>
<text x="484.09999999999997" y="240.2" font-size="10.6" text-anchor="start" textLength="12.1" lengthAdjust="spacingAndGlyphs" stroke-width="0.4">10</text>
<text x="497.2" y="232.1" font-size="9.6" text-anchor="start" textLength="4.9" lengthAdjust="spacingAndGlyphs" stroke-width="0.35">6</text>
<text x="515.1" y="240.2" font-size="10.6" text-anchor="start" textLength="11.7" lengthAdjust="spacingAndGlyphs" stroke-width="0.4">10</text>
<text x="529.1999999999999" y="232.1" font-size="9.6" text-anchor="start" textLength="5.0" lengthAdjust="spacingAndGlyphs" stroke-width="0.35">7</text>
<text x="151.5" y="473.3" font-size="10.3" text-anchor="start" textLength="11.3" lengthAdjust="spacingAndGlyphs" stroke-width="0.4">10</text>
<text x="162.6" y="465.6" font-size="8.9" text-anchor="start" textLength="4.6" lengthAdjust="spacingAndGlyphs" stroke-width="0.35">0</text>
<text x="179.6" y="473.3" font-size="10.3" text-anchor="start" textLength="11.7" lengthAdjust="spacingAndGlyphs" stroke-width="0.4">10</text>
<text x="192.3" y="465.6" font-size="8.9" text-anchor="start" textLength="3.3" lengthAdjust="spacingAndGlyphs" stroke-width="0.35">1</text>
<text x="210.7" y="473.3" font-size="10.3" text-anchor="start" textLength="11.0" lengthAdjust="spacingAndGlyphs" stroke-width="0.4">10</text>
<text x="221.8" y="465.6" font-size="8.9" text-anchor="start" textLength="4.5" lengthAdjust="spacingAndGlyphs" stroke-width="0.35">2</text>
<text x="242.0" y="473.3" font-size="10.3" text-anchor="start" textLength="11.2" lengthAdjust="spacingAndGlyphs" stroke-width="0.4">10</text>
<text x="253.4" y="465.6" font-size="8.9" text-anchor="start" textLength="4.9" lengthAdjust="spacingAndGlyphs" stroke-width="0.35">3</text>
<text x="273.9" y="473.3" font-size="10.3" text-anchor="start" textLength="11.4" lengthAdjust="spacingAndGlyphs" stroke-width="0.4">10</text>
<text x="285.7" y="465.6" font-size="8.9" text-anchor="start" textLength="5.0" lengthAdjust="spacingAndGlyphs" stroke-width="0.35">4</text>
<text x="305.4" y="473.3" font-size="10.3" text-anchor="start" textLength="10.9" lengthAdjust="spacingAndGlyphs" stroke-width="0.4">10</text>
<text x="318.4" y="465.6" font-size="8.9" text-anchor="start" textLength="4.8" lengthAdjust="spacingAndGlyphs" stroke-width="0.35">5</text>
<text x="340.09999999999997" y="473.3" font-size="10.3" text-anchor="start" textLength="11.4" lengthAdjust="spacingAndGlyphs" stroke-width="0.4">10</text>
<text x="353.2" y="465.6" font-size="8.9" text-anchor="start" textLength="4.7" lengthAdjust="spacingAndGlyphs" stroke-width="0.35">6</text>
<text x="371.2" y="473.3" font-size="10.3" text-anchor="start" textLength="11.4" lengthAdjust="spacingAndGlyphs" stroke-width="0.4">10</text>
<text x="385.4" y="465.6" font-size="8.9" text-anchor="start" textLength="4.8" lengthAdjust="spacingAndGlyphs" stroke-width="0.35">7</text>
<text x="117.2" y="259.2" font-size="8.3" text-anchor="start" textLength="61.6" lengthAdjust="spacingAndGlyphs">Fluorescence</text>
<text x="390.8" y="257.8" font-size="8.6" text-anchor="start" textLength="62.2" lengthAdjust="spacingAndGlyphs">Fluorescence</text>
<text x="247.0" y="491.5" font-size="8.8" text-anchor="start" textLength="61.6" lengthAdjust="spacingAndGlyphs">Fluorescence</text>
<text transform="translate(10.5,155.0) rotate(-90)" font-size="9.0" textLength="28.3" lengthAdjust="spacingAndGlyphs">Counts</text>
<text transform="translate(290.3,155.2) rotate(-90)" font-size="9.0" textLength="28.0" lengthAdjust="spacingAndGlyphs">Counts</text>
<text transform="translate(121.8,379.6) rotate(-90)" font-size="9.4" textLength="27.9" lengthAdjust="spacingAndGlyphs">Counts</text>
<path d="M402,300.0H413.5" stroke="#ea2438" stroke-width="1.8" fill="none"/>
<text x="417.2" y="302.2" font-size="8.5" text-anchor="start" textLength="33.3" lengthAdjust="spacingAndGlyphs">control</text>
<path d="M402,310.2H413.5" stroke="#1b9af0" stroke-width="1.8" fill="none"/>
<text x="417.5" y="313.3" font-size="8.5" text-anchor="start" textLength="30.5" lengthAdjust="spacingAndGlyphs">30 min</text>
<path d="M402,320.9H413.5" stroke="#f8842a" stroke-width="1.8" fill="none"/>
<text x="418.3" y="323.8" font-size="8.5" text-anchor="start" textLength="13.1" lengthAdjust="spacingAndGlyphs">1 h</text>
<path d="M402,331.1H413.5" stroke="#74cc22" stroke-width="1.8" fill="none"/>
<text x="417.7" y="334.0" font-size="8.5" text-anchor="start" textLength="14.3" lengthAdjust="spacingAndGlyphs">2 h</text>
</svg>
</body></html>
